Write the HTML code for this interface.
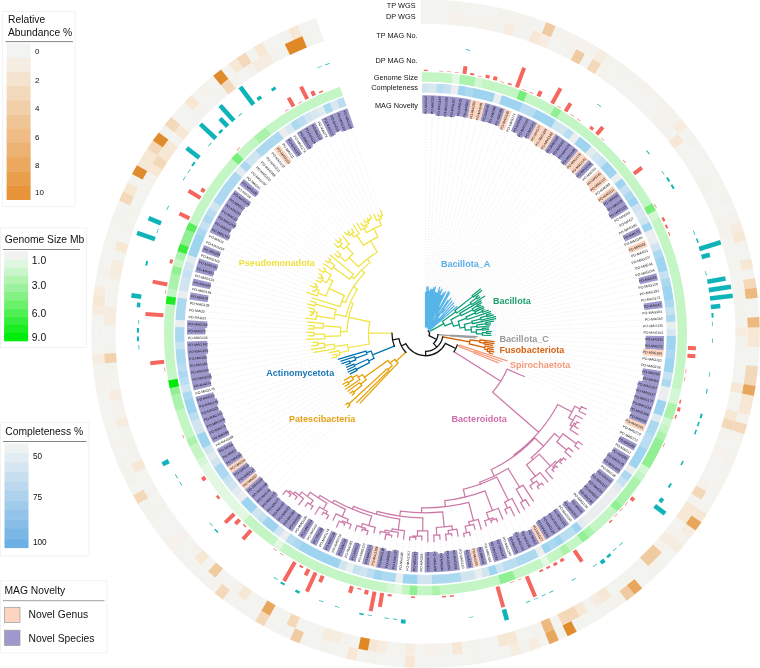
<!DOCTYPE html>
<html lang="en"><head><meta charset="utf-8"><title>Phylogenetic tree of MAGs</title>
<style>html,body{margin:0;padding:0;background:#fff}body{width:760px;height:668px;overflow:hidden}svg{display:block}</style></head>
<body>
<svg width="760" height="668" viewBox="0 0 760 668" font-family="'Liberation Sans', sans-serif">
<rect width="760" height="668" fill="#fff"/>
<g id="heat">
<path fill="#f3f3ef" d="M420.89 11.83L420.72 -0.37A334.2 334.2 0 0 1 450.52 0.54L449.61 12.7A322 322 0 0 0 420.89 11.83ZM458.85 13.53L460.12 1.4A334.2 334.2 0 0 1 499.27 7.84L496.57 19.74A322 322 0 0 0 458.85 13.53ZM505.59 21.92L508.63 10.1A334.2 334.2 0 0 1 518.37 12.76L514.98 24.48A322 322 0 0 0 505.59 21.92ZM532.87 30.23L536.93 18.72A334.2 334.2 0 0 1 546.4 22.24L541.99 33.61A322 322 0 0 0 532.87 30.23ZM608.81 69.07L615.75 59.04A334.2 334.2 0 0 1 623.97 64.91L616.72 74.73A322 322 0 0 0 608.81 69.07ZM624.11 80.35L631.64 70.75A334.2 334.2 0 0 1 639.49 77.09L631.68 86.46A322 322 0 0 0 624.11 80.35ZM645.75 98.91L654.09 90.01A334.2 334.2 0 0 1 661.36 97.03L652.75 105.67A322 322 0 0 0 645.75 98.91ZM677.9 133.85L687.46 126.28A334.2 334.2 0 0 1 693.61 134.29L683.83 141.57A322 322 0 0 0 677.9 133.85ZM689.26 149.1L699.25 142.1A334.2 334.2 0 0 1 728.84 193.54L717.77 198.66A322 322 0 0 0 689.26 149.1ZM721.54 207.14L732.76 202.35A334.2 334.2 0 0 1 736.59 211.69L725.24 216.15A322 322 0 0 0 721.54 207.14ZM736.95 252.06L748.75 248.96A334.2 334.2 0 0 1 751.17 258.77L739.28 261.51A322 322 0 0 0 736.95 252.06ZM741.23 270.58L753.2 268.19A334.2 334.2 0 0 1 755.03 278.12L743 280.15A322 322 0 0 0 741.23 270.58ZM745.59 298.75L757.71 297.43A334.2 334.2 0 0 1 759.29 317.33L747.11 317.93A322 322 0 0 0 745.59 298.75ZM747.26 346.21L759.45 346.68A334.2 334.2 0 0 1 758.09 366.6L745.95 365.4A322 322 0 0 0 747.26 346.21ZM729.73 439.29L741.26 443.28A334.2 334.2 0 0 1 737.81 452.78L726.4 448.43A322 322 0 0 0 729.73 439.29ZM719.21 465.78L730.34 470.78A334.2 334.2 0 0 1 726.06 479.93L715.09 474.6A322 322 0 0 0 719.21 465.78ZM710.91 482.88L721.72 488.53A334.2 334.2 0 0 1 706.75 514.32L696.48 507.73A322 322 0 0 0 710.91 482.88ZM668.1 545.53L677.29 553.55A334.2 334.2 0 0 1 663.73 568.19L655.03 559.63A322 322 0 0 0 668.1 545.53ZM648.43 566.15L656.87 574.96A334.2 334.2 0 0 1 642.06 588.34L634.16 579.05A322 322 0 0 0 648.43 566.15ZM604 601.8L610.76 611.95A334.2 334.2 0 0 1 576.49 631.95L570.98 621.06A322 322 0 0 0 604 601.8ZM562.64 625.14L567.84 636.17A334.2 334.2 0 0 1 558.64 640.34L553.78 629.15A322 322 0 0 0 562.64 625.14ZM545.21 632.72L549.75 644.05A334.2 334.2 0 0 1 540.32 647.66L536.12 636.2A322 322 0 0 0 545.21 632.72ZM509.16 644.74L512.33 656.52A334.2 334.2 0 0 1 483.22 662.98L481.11 650.96A322 322 0 0 0 509.16 644.74ZM471.95 652.43L473.71 664.5A334.2 334.2 0 0 1 414.45 667.82L414.85 655.62A322 322 0 0 0 471.95 652.43ZM405.58 655.18L404.83 667.36A334.2 334.2 0 0 1 375.17 664.19L377.01 652.13A322 322 0 0 0 405.58 655.18ZM367.86 650.6L365.67 662.6A334.2 334.2 0 0 1 355.77 660.64L358.31 648.71A322 322 0 0 0 367.86 650.6ZM349.26 646.65L346.38 658.5A334.2 334.2 0 0 1 327.13 653.2L330.72 641.54A322 322 0 0 0 349.26 646.65ZM321.89 638.68L317.97 650.23A334.2 334.2 0 0 1 299.27 643.24L303.88 631.95A322 322 0 0 0 321.89 638.68ZM295.33 628.32L290.4 639.48A334.2 334.2 0 0 1 263.69 626.22L269.6 615.54A322 322 0 0 0 295.33 628.32ZM261.54 610.93L255.33 621.43A334.2 334.2 0 0 1 222.44 599.24L229.86 589.55A322 322 0 0 0 261.54 610.93ZM215.28 577.71L207.31 586.95A334.2 334.2 0 0 1 172.3 551.93L181.54 543.97A322 322 0 0 0 215.28 577.71ZM175.59 536.85L166.12 544.54A334.2 334.2 0 0 1 148.37 520.58L158.48 513.76A322 322 0 0 0 175.59 536.85ZM153.41 505.99L143.1 512.52A334.2 334.2 0 0 1 137.83 503.9L148.33 497.69A322 322 0 0 0 153.41 505.99ZM143.72 489.64L133.05 495.54A334.2 334.2 0 0 1 128.29 486.63L139.14 481.05A322 322 0 0 0 143.72 489.64ZM127.33 455.36L116.03 459.96A334.2 334.2 0 0 1 112.36 450.55L123.79 446.29A322 322 0 0 0 127.33 455.36ZM120.67 437.55L109.12 441.48A334.2 334.2 0 0 1 96.68 393.55L108.69 391.37A322 322 0 0 0 120.67 437.55ZM105.87 372.8L93.76 374.27A334.2 334.2 0 0 1 92.69 364.23L104.84 363.12A322 322 0 0 0 105.87 372.8ZM104.13 353.87L91.95 354.63A334.2 334.2 0 0 1 91.83 314.95L104.01 315.64A322 322 0 0 0 104.13 353.87ZM106.85 287.5L94.77 285.75A334.2 334.2 0 0 1 96.38 275.78L108.39 277.89A322 322 0 0 0 106.85 287.5ZM110.13 268.78L98.18 266.32A334.2 334.2 0 0 1 111.75 218.69L123.2 222.89A322 322 0 0 0 110.13 268.78ZM126.52 214.23L115.2 209.7A334.2 334.2 0 0 1 119.09 200.38L130.27 205.25A322 322 0 0 0 126.52 214.23ZM138.27 188.25L127.39 182.74A334.2 334.2 0 0 1 132.09 173.8L142.8 179.64A322 322 0 0 0 138.27 188.25ZM180.3 125.09L171.01 117.18A334.2 334.2 0 0 1 184.4 102.37L193.2 110.82A322 322 0 0 0 180.3 125.09ZM199.72 104.22L191.17 95.52A334.2 334.2 0 0 1 198.47 88.55L206.76 97.5A322 322 0 0 0 199.72 104.22ZM213.66 91.3L205.64 82.11A334.2 334.2 0 0 1 213.34 75.58L221.09 85.01A322 322 0 0 0 213.66 91.3ZM228.34 79.22L220.87 69.57A334.2 334.2 0 0 1 228.95 63.51L236.12 73.38A322 322 0 0 0 228.34 79.22ZM251.63 62.78L245.04 52.51A334.2 334.2 0 0 1 253.62 47.18L259.9 57.65A322 322 0 0 0 251.63 62.78ZM267.93 52.99L261.96 42.35A334.2 334.2 0 0 1 279.65 33.11L284.97 44.08A322 322 0 0 0 267.93 52.99ZM302.11 36.38L297.43 25.11A334.2 334.2 0 0 1 316.09 18.02L320.08 29.54A322 322 0 0 0 302.11 36.38Z"/>
<path fill="#f4f2ec" d="M449.39 12.69L450.29 0.52A334.2 334.2 0 0 1 460.35 1.42L459.08 13.56A322 322 0 0 0 449.39 12.69ZM496.35 19.69L499.04 7.79A334.2 334.2 0 0 1 508.85 10.16L505.81 21.98A322 322 0 0 0 496.35 19.69ZM514.76 24.42L518.15 12.7A334.2 334.2 0 0 1 537.15 18.8L533.08 30.3A322 322 0 0 0 514.76 24.42ZM550.59 37.09L555.33 25.85A334.2 334.2 0 0 1 573.49 34.15L568.08 45.09A322 322 0 0 0 550.59 37.09ZM584.68 53.89L590.71 43.29A334.2 334.2 0 0 1 599.41 48.41L593.06 58.83A322 322 0 0 0 584.68 53.89ZM600.91 63.77L607.56 53.54A334.2 334.2 0 0 1 615.95 59.17L608.99 69.2A322 322 0 0 0 600.91 63.77ZM616.54 74.6L623.78 64.78A334.2 334.2 0 0 1 631.82 70.89L624.29 80.49A322 322 0 0 0 616.54 74.6ZM631.51 86.32L639.31 76.94A334.2 334.2 0 0 1 646.97 83.52L638.89 92.66A322 322 0 0 0 631.51 86.32ZM652.59 105.51L661.19 96.86A334.2 334.2 0 0 1 681.37 118.82L672.03 126.66A322 322 0 0 0 652.59 105.51ZM683.69 141.39L693.47 134.1A334.2 334.2 0 0 1 699.39 142.29L689.39 149.28A322 322 0 0 0 683.69 141.39ZM717.68 198.46L728.75 193.33A334.2 334.2 0 0 1 732.85 202.56L721.63 207.35A322 322 0 0 0 717.68 198.46ZM725.15 215.94L736.51 211.47A334.2 334.2 0 0 1 740.06 220.92L728.58 225.05A322 322 0 0 0 725.15 215.94ZM734.4 242.9L746.11 239.46A334.2 334.2 0 0 1 748.81 249.19L737.01 252.28A322 322 0 0 0 734.4 242.9ZM737.87 411.97L749.7 414.93A334.2 334.2 0 0 1 747.1 424.69L735.36 421.37A322 322 0 0 0 737.87 411.97ZM732.71 430.26L744.35 433.92A334.2 334.2 0 0 1 741.18 443.51L729.66 439.5A322 322 0 0 0 732.71 430.26ZM726.48 448.22L737.89 452.56A334.2 334.2 0 0 1 730.24 471L719.12 465.99A322 322 0 0 0 726.48 448.22ZM715.18 474.39L726.16 479.72A334.2 334.2 0 0 1 721.61 488.74L710.8 483.08A322 322 0 0 0 715.18 474.39ZM680.17 530.84L689.82 538.31A334.2 334.2 0 0 1 683.52 546.2L674.1 538.45A322 322 0 0 0 680.17 530.84ZM655.19 559.47L663.89 568.02A334.2 334.2 0 0 1 656.7 575.12L648.26 566.31A322 322 0 0 0 655.19 559.47ZM619.5 590.8L626.85 600.54A334.2 334.2 0 0 1 610.57 612.08L603.81 601.92A322 322 0 0 0 619.5 590.8ZM527.36 639.26L531.22 650.84A334.2 334.2 0 0 1 521.6 653.89L518.09 642.2A322 322 0 0 0 527.36 639.26ZM481.33 650.92L483.45 662.94A334.2 334.2 0 0 1 473.48 664.54L471.72 652.46A322 322 0 0 0 481.33 650.92ZM377.23 652.16L375.41 664.22A334.2 334.2 0 0 1 365.44 662.56L367.64 650.56A322 322 0 0 0 377.23 652.16ZM330.94 641.6L327.35 653.26A334.2 334.2 0 0 1 317.75 650.15L321.68 638.6A322 322 0 0 0 330.94 641.6ZM222.57 583.81L214.88 593.28A334.2 334.2 0 0 1 207.14 586.8L215.11 577.56A322 322 0 0 0 222.57 583.81ZM158.61 513.95L148.5 520.77A334.2 334.2 0 0 1 142.97 512.32L153.29 505.8A322 322 0 0 0 158.61 513.95ZM139.24 481.25L128.4 486.84A334.2 334.2 0 0 1 115.94 459.74L127.24 455.15A322 322 0 0 0 139.24 481.25ZM123.87 446.5L112.44 450.77A334.2 334.2 0 0 1 109.05 441.26L120.6 437.34A322 322 0 0 0 123.87 446.5ZM108.73 391.59L96.73 393.78A334.2 334.2 0 0 1 93.73 374.04L105.84 372.57A322 322 0 0 0 108.73 391.59ZM108.35 278.12L96.34 276.01A334.2 334.2 0 0 1 98.23 266.09L110.18 268.56A322 322 0 0 0 108.35 278.12ZM123.13 223.11L111.67 218.91A334.2 334.2 0 0 1 115.28 209.48L126.61 214.02A322 322 0 0 0 123.13 223.11ZM168.41 139.92L158.67 132.57A334.2 334.2 0 0 1 164.87 124.6L174.39 132.24A322 322 0 0 0 168.41 139.92ZM284.77 44.18L279.44 33.21A334.2 334.2 0 0 1 288.59 28.93L293.59 40.06A322 322 0 0 0 284.77 44.18Z"/>
<path fill="#f6f1ea" d="M567.88 44.99L573.28 34.05A334.2 334.2 0 0 1 590.91 43.4L584.87 54.01A322 322 0 0 0 567.88 44.99ZM638.72 92.51L646.8 83.37A334.2 334.2 0 0 1 654.26 90.17L645.91 99.06A322 322 0 0 0 638.72 92.51ZM181.69 544.14L172.45 552.11A334.2 334.2 0 0 1 165.97 544.36L175.45 536.67A322 322 0 0 0 181.69 544.14ZM206.6 97.65L198.3 88.71A334.2 334.2 0 0 1 205.81 81.95L213.83 91.15A322 322 0 0 0 206.6 97.65Z"/>
<path fill="#f6ece0" d="M592.87 58.71L599.21 48.29A334.2 334.2 0 0 1 607.76 53.67L601.1 63.9A322 322 0 0 0 592.87 58.71ZM671.89 126.49L681.22 118.64A334.2 334.2 0 0 1 687.61 126.46L678.04 134.03A322 322 0 0 0 671.89 126.49ZM728.5 224.83L739.98 220.71A334.2 334.2 0 0 1 743.26 230.26L731.66 234.04A322 322 0 0 0 728.5 224.83ZM685.88 523.24L695.74 530.42A334.2 334.2 0 0 1 689.68 538.49L680.04 531.02A322 322 0 0 0 685.88 523.24ZM674.25 538.27L683.67 546.02A334.2 334.2 0 0 1 677.14 553.72L667.96 545.69A322 322 0 0 0 674.25 538.27ZM536.34 636.12L540.54 647.58A334.2 334.2 0 0 1 531 650.91L527.15 639.33A322 322 0 0 0 536.34 636.12ZM518.3 642.14L521.82 653.82A334.2 334.2 0 0 1 512.11 656.58L508.94 644.8A322 322 0 0 0 518.3 642.14ZM104.86 363.35L92.71 364.46A334.2 334.2 0 0 1 91.94 354.4L104.11 353.64A322 322 0 0 0 104.86 363.35ZM104 315.87L91.82 315.19A334.2 334.2 0 0 1 92.53 305.11L104.69 306.16A322 322 0 0 0 104 315.87ZM105.62 296.93L93.5 295.53A334.2 334.2 0 0 1 94.81 285.52L106.88 287.28A322 322 0 0 0 105.62 296.93Z"/>
<path fill="#f7e7d5" d="M731.59 233.82L743.18 230.04A334.2 334.2 0 0 1 746.17 239.68L734.47 243.12A322 322 0 0 0 731.59 233.82ZM739.23 261.29L751.12 258.54A334.2 334.2 0 0 1 753.24 268.41L741.28 270.8A322 322 0 0 0 739.23 261.29ZM747.43 327.2L759.63 326.95A334.2 334.2 0 0 1 759.44 346.91L747.25 346.44A322 322 0 0 0 747.43 327.2ZM741.94 393.4L753.93 395.66A334.2 334.2 0 0 1 749.65 415.15L737.81 412.18A322 322 0 0 0 741.94 393.4ZM696.6 507.54L706.88 514.13A334.2 334.2 0 0 1 701.3 522.55L691.23 515.66A322 322 0 0 0 696.6 507.54ZM415.08 655.63L414.68 667.82A334.2 334.2 0 0 1 404.59 667.35L405.36 655.17A322 322 0 0 0 415.08 655.63ZM358.53 648.76L356 660.69A334.2 334.2 0 0 1 346.15 658.44L349.05 646.59A322 322 0 0 0 358.53 648.76ZM104.67 306.39L92.51 305.35A334.2 334.2 0 0 1 93.53 295.3L105.64 296.7A322 322 0 0 0 104.67 306.39ZM134.1 196.79L123.06 191.6A334.2 334.2 0 0 1 127.49 182.53L138.37 188.05A322 322 0 0 0 134.1 196.79ZM147.36 171.56L136.82 165.41A334.2 334.2 0 0 1 147.39 148.48L157.54 155.24A322 322 0 0 0 147.36 171.56ZM193.04 110.98L184.24 102.54A334.2 334.2 0 0 1 191.33 95.36L199.88 104.06A322 322 0 0 0 193.04 110.98ZM235.94 73.51L228.76 63.65A334.2 334.2 0 0 1 237.01 57.83L243.89 67.9A322 322 0 0 0 235.94 73.51ZM259.71 57.76L253.42 47.3A334.2 334.2 0 0 1 262.16 42.24L268.12 52.88A322 322 0 0 0 259.71 57.76ZM293.38 40.15L288.37 29.03A334.2 334.2 0 0 1 297.65 25.02L302.31 36.3A322 322 0 0 0 293.38 40.15Z"/>
<path fill="#f4d8ba" d="M742.96 279.93L754.99 277.89A334.2 334.2 0 0 1 756.53 287.87L744.44 289.54A322 322 0 0 0 742.96 279.93ZM745.97 365.18L758.11 366.36A334.2 334.2 0 0 1 755.57 386.17L743.52 384.25A322 322 0 0 0 745.97 365.18ZM735.43 421.15L747.17 424.46A334.2 334.2 0 0 1 744.28 434.14L732.64 430.48A322 322 0 0 0 735.43 421.15ZM269.79 615.65L263.9 626.33A334.2 334.2 0 0 1 255.13 621.31L261.35 610.82A322 322 0 0 0 269.79 615.65ZM230.04 589.69L222.63 599.38A334.2 334.2 0 0 1 214.7 593.13L222.39 583.66A322 322 0 0 0 230.04 589.69ZM148.44 497.89L137.95 504.1A334.2 334.2 0 0 1 132.93 495.34L143.61 489.44A322 322 0 0 0 148.44 497.89ZM130.18 205.46L118.99 200.59A334.2 334.2 0 0 1 123.16 191.39L134.2 196.59A322 322 0 0 0 130.18 205.46ZM157.42 155.43L147.26 148.67A334.2 334.2 0 0 1 152.98 140.35L162.93 147.41A322 322 0 0 0 157.42 155.43ZM174.25 132.42L164.73 124.79A334.2 334.2 0 0 1 171.16 117L180.45 124.92A322 322 0 0 0 174.25 132.42ZM243.71 68.03L236.82 57.96A334.2 334.2 0 0 1 245.24 52.38L251.82 62.66A322 322 0 0 0 243.71 68.03Z"/>
<path fill="#f0caa0" d="M541.78 33.53L546.18 22.15A334.2 334.2 0 0 1 555.55 25.94L550.8 37.18A322 322 0 0 0 541.78 33.53ZM627 584.96L634.64 594.48A334.2 334.2 0 0 1 626.66 600.68L619.32 590.93A322 322 0 0 0 627 584.96ZM304.08 632.03L299.48 643.33A334.2 334.2 0 0 1 290.19 639.38L295.13 628.23A322 322 0 0 0 304.08 632.03Z"/>
<path fill="#ecb97f" d="M744.41 289.32L756.5 287.64A334.2 334.2 0 0 1 757.74 297.66L745.61 298.98A322 322 0 0 0 744.41 289.32ZM747.1 317.7L759.28 317.09A334.2 334.2 0 0 1 759.63 327.19L747.44 327.43A322 322 0 0 0 747.1 317.7Z"/>
<path fill="#e9a75d" d="M743.56 384.03L755.61 385.93A334.2 334.2 0 0 1 753.88 395.88L741.89 393.62A322 322 0 0 0 743.56 384.03ZM691.36 515.47L701.43 522.35A334.2 334.2 0 0 1 695.61 530.6L685.75 523.42A322 322 0 0 0 691.36 515.47ZM634.33 578.9L642.24 588.19A334.2 334.2 0 0 1 634.45 594.62L626.83 585.1A322 322 0 0 0 634.33 578.9ZM553.98 629.06L558.85 640.24A334.2 334.2 0 0 1 549.53 644.13L545 632.8A322 322 0 0 0 553.98 629.06Z"/>
<path fill="#e18c2c" d="M571.18 620.96L576.7 631.84A334.2 334.2 0 0 1 567.63 636.27L562.44 625.23A322 322 0 0 0 571.18 620.96ZM142.69 179.84L131.98 174.01A334.2 334.2 0 0 1 136.94 165.21L147.47 171.36A322 322 0 0 0 142.69 179.84ZM162.8 147.59L152.85 140.54A334.2 334.2 0 0 1 158.81 132.39L168.55 139.74A322 322 0 0 0 162.8 147.59ZM220.91 85.15L213.16 75.73A334.2 334.2 0 0 1 221.05 69.43L228.52 79.08A322 322 0 0 0 220.91 85.15Z"/>
<path fill="#f3f3ef" d="M421.06 23.83L420.89 11.83A322 322 0 0 1 449.61 12.7L448.71 24.67A310 310 0 0 0 421.06 23.83ZM466.7 26.55L468.29 14.66A322 322 0 0 1 477.92 16.1L475.96 27.93A310 310 0 0 0 466.7 26.55ZM493.71 31.4L496.35 19.69A322 322 0 0 1 505.81 21.98L502.82 33.6A310 310 0 0 0 493.71 31.4ZM520.19 38.62L523.86 27.19A322 322 0 0 1 533.08 30.3L529.07 41.61A310 310 0 0 0 520.19 38.62ZM545.93 48.15L550.59 37.09A322 322 0 0 1 568.08 45.09L562.77 55.85A310 310 0 0 0 545.93 48.15ZM578.74 64.33L584.68 53.89A322 322 0 0 1 593.06 58.83L586.82 69.08A310 310 0 0 0 578.74 64.33ZM601.98 78.94L608.81 69.07A322 322 0 0 1 659.38 112.48L650.66 120.73A310 310 0 0 0 601.98 78.94ZM662.71 134.22L671.89 126.49A322 322 0 0 1 678.04 134.03L668.63 141.48A310 310 0 0 0 662.71 134.22ZM674.07 148.56L683.69 141.39A322 322 0 0 1 704.67 173.34L694.27 179.32A310 310 0 0 0 674.07 148.56ZM702.82 195.26L713.55 189.9A322 322 0 0 1 725.24 216.15L714.07 220.53A310 310 0 0 0 702.82 195.26ZM720.18 237.55L731.59 233.82A322 322 0 0 1 744.44 289.54L732.56 291.19A310 310 0 0 0 720.18 237.55ZM733.66 300.06L745.59 298.75A322 322 0 0 1 746.5 308.44L734.54 309.39A310 310 0 0 0 733.66 300.06ZM735.11 318.3L747.1 317.7A322 322 0 0 1 747.44 327.43L735.44 327.67A310 310 0 0 0 735.11 318.3ZM735.27 345.75L747.26 346.21A322 322 0 0 1 743.52 384.25L731.67 382.37A310 310 0 0 0 735.27 345.75ZM730.14 391.18L741.94 393.4A322 322 0 0 1 737.81 412.18L726.17 409.26A310 310 0 0 0 730.14 391.18ZM718.39 435.36L729.73 439.29A322 322 0 0 1 726.4 448.43L715.19 444.16A310 310 0 0 0 718.39 435.36ZM711.89 452.46L722.98 457.06A322 322 0 0 1 710.8 483.08L700.17 477.52A310 310 0 0 0 711.89 452.46ZM676.18 516.18L685.88 523.24A322 322 0 0 1 680.04 531.02L670.55 523.67A310 310 0 0 0 676.18 516.18ZM640.12 557.49L648.43 566.15A322 322 0 0 1 634.16 579.05L626.38 569.91A310 310 0 0 0 640.12 557.49ZM619.49 575.6L627 584.96A322 322 0 0 1 611.65 596.54L604.71 586.75A310 310 0 0 0 619.49 575.6ZM589.65 596.77L596.01 606.95A322 322 0 0 1 587.68 611.98L581.63 601.61A310 310 0 0 0 589.65 596.77ZM557.53 614.28L562.64 625.14A322 322 0 0 1 553.78 629.15L549 618.14A310 310 0 0 0 557.53 614.28ZM532.21 624.86L536.34 636.12A322 322 0 0 1 518.09 642.2L514.64 630.71A310 310 0 0 0 532.21 624.86ZM497.17 635.4L499.95 647.08A322 322 0 0 1 481.11 650.96L479.04 639.14A310 310 0 0 0 497.17 635.4ZM470.22 640.56L471.95 652.43A322 322 0 0 1 462.3 653.69L460.93 641.77A310 310 0 0 0 470.22 640.56ZM452.04 642.66L453.06 654.62A322 322 0 0 1 443.36 655.3L442.69 643.32A310 310 0 0 0 452.04 642.66ZM424.61 643.8L424.58 655.8A322 322 0 0 1 414.85 655.62L415.25 643.63A310 310 0 0 0 424.61 643.8ZM397.2 642.51L396.1 654.46A322 322 0 0 1 386.43 653.42L387.89 641.51A310 310 0 0 0 397.2 642.51ZM361.03 637.02L358.53 648.76A322 322 0 0 1 349.05 646.59L351.9 634.94A310 310 0 0 0 361.03 637.02ZM325.75 627.31L321.89 638.68A322 322 0 0 1 295.13 628.23L299.99 617.25A310 310 0 0 0 325.75 627.31ZM291.87 613.52L286.7 624.35A322 322 0 0 1 269.6 615.54L275.41 605.04A310 310 0 0 0 291.87 613.52ZM267.65 600.6L261.54 610.93A322 322 0 0 1 245.29 600.65L252.01 590.7A310 310 0 0 0 267.65 600.6ZM237.32 580.15L230.04 589.69A322 322 0 0 1 215.11 577.56L222.95 568.48A310 310 0 0 0 237.32 580.15ZM216.27 562.54L208.17 571.39A322 322 0 0 1 201.09 564.72L209.45 556.11A310 310 0 0 0 216.27 562.54ZM196.86 543.14L188.01 551.24A322 322 0 0 1 181.54 543.97L190.64 536.13A310 310 0 0 0 196.86 543.14ZM184.9 529.28L175.59 536.85A322 322 0 0 1 158.48 513.76L168.43 507.06A310 310 0 0 0 184.9 529.28ZM163.55 499.58L153.41 505.99A322 322 0 0 1 148.33 497.69L158.66 491.58A310 310 0 0 0 163.55 499.58ZM154.22 483.83L143.72 489.64A322 322 0 0 1 134.92 472.54L145.75 467.37A310 310 0 0 0 154.22 483.83ZM132.03 433.68L120.67 437.55A322 322 0 0 1 117.68 428.29L129.15 424.77A310 310 0 0 0 132.03 433.68ZM120.53 389.44L108.73 391.59A322 322 0 0 1 105.84 372.57L117.76 371.13A310 310 0 0 0 120.53 389.44ZM115.67 343.98L103.67 344.37A322 322 0 0 1 103.62 325.14L115.61 325.46A310 310 0 0 0 115.67 343.98ZM116.63 307.41L104.67 306.39A322 322 0 0 1 108.39 277.89L120.21 279.98A310 310 0 0 0 116.63 307.41ZM123.87 262.27L112.19 259.5A322 322 0 0 1 114.58 250.07L126.16 253.19A310 310 0 0 0 123.87 262.27ZM128.61 244.59L117.12 241.14A322 322 0 0 1 120.06 231.87L131.44 235.66A310 310 0 0 0 128.61 244.59ZM134.39 227.23L123.13 223.11A322 322 0 0 1 126.61 214.02L137.75 218.48A310 310 0 0 0 134.39 227.23ZM141.19 210.24L130.18 205.46A322 322 0 0 1 142.8 179.64L153.34 185.39A310 310 0 0 0 141.19 210.24ZM177.99 147.15L168.41 139.92A322 322 0 0 1 174.39 132.24L183.75 139.75A310 310 0 0 0 177.99 147.15ZM189.44 132.87L180.3 125.09A322 322 0 0 1 193.2 110.82L201.86 119.13A310 310 0 0 0 189.44 132.87ZM208.14 112.77L199.72 104.22A322 322 0 0 1 221.09 85.01L228.7 94.28A310 310 0 0 0 208.14 112.77ZM243 83.21L235.94 73.51A322 322 0 0 1 243.89 67.9L250.66 77.81A310 310 0 0 0 243 83.21ZM281.84 59.09L276.28 48.46A322 322 0 0 1 284.97 44.08L290.21 54.88A310 310 0 0 0 281.84 59.09ZM315.21 44.08L310.94 32.87A322 322 0 0 1 320.08 29.54L324.01 40.88A310 310 0 0 0 315.21 44.08Z"/>
<path fill="#f4f2ec" d="M475.75 27.9L477.7 16.06A322 322 0 0 1 487.27 17.78L484.97 29.56A310 310 0 0 0 475.75 27.9ZM511.44 35.95L514.76 24.42A322 322 0 0 1 524.07 27.26L520.4 38.68A310 310 0 0 0 511.44 35.95ZM562.58 55.75L567.88 44.99A322 322 0 0 1 576.54 49.42L570.91 60.02A310 310 0 0 0 562.58 55.75ZM594.38 73.84L600.91 63.77A322 322 0 0 1 608.99 69.2L602.16 79.06A310 310 0 0 0 594.38 73.84ZM656.71 127.3L665.66 119.31A322 322 0 0 1 672.03 126.66L662.85 134.38A310 310 0 0 0 656.71 127.3ZM694.16 179.14L704.56 173.15A322 322 0 0 1 713.66 190.1L702.92 195.45A310 310 0 0 0 694.16 179.14ZM713.99 220.33L725.15 215.94A322 322 0 0 1 731.66 234.04L720.25 237.76A310 310 0 0 0 713.99 220.33ZM732.53 290.98L744.41 289.32A322 322 0 0 1 745.61 298.98L733.68 300.28A310 310 0 0 0 732.53 290.98ZM734.52 309.17L746.48 308.22A322 322 0 0 1 747.11 317.93L735.12 318.52A310 310 0 0 0 734.52 309.17ZM735.49 336.6L747.49 336.71A322 322 0 0 1 747.25 346.44L735.26 345.96A310 310 0 0 0 735.49 336.6ZM721.26 426.67L732.71 430.26A322 322 0 0 1 729.66 439.5L718.32 435.56A310 310 0 0 0 721.26 426.67ZM691.32 493.29L701.61 499.47A322 322 0 0 1 696.48 507.73L686.38 501.25A310 310 0 0 0 691.32 493.29ZM626.54 569.77L634.33 578.9A322 322 0 0 1 626.83 585.1L619.32 575.74A310 310 0 0 0 626.54 569.77ZM540.75 621.58L545.21 632.72A322 322 0 0 1 536.12 636.2L532 624.93A310 310 0 0 0 540.75 621.58ZM479.25 639.1L481.33 650.92A322 322 0 0 1 471.72 652.46L470 640.59A310 310 0 0 0 479.25 639.1ZM406.32 643.21L405.58 655.18A322 322 0 0 1 395.88 654.43L396.98 642.49A310 310 0 0 0 406.32 643.21ZM352.11 634.99L349.26 646.65A322 322 0 0 1 339.85 644.2L343.04 632.63A310 310 0 0 0 352.11 634.99ZM203.14 549.8L194.53 558.16A322 322 0 0 1 187.85 551.08L196.71 542.98A310 310 0 0 0 203.14 549.8ZM168.56 507.24L158.61 513.95A322 322 0 0 1 153.29 505.8L163.43 499.39A310 310 0 0 0 168.56 507.24ZM158.77 491.77L148.44 497.89A322 322 0 0 1 143.61 489.44L154.12 483.64A310 310 0 0 0 158.77 491.77ZM142.02 459.25L131.04 464.1A322 322 0 0 1 120.6 437.34L131.96 433.48A310 310 0 0 0 142.02 459.25ZM126.65 416.19L115.08 419.38A322 322 0 0 1 110.53 400.69L122.26 398.2A310 310 0 0 0 126.65 416.19ZM117.78 371.34L105.87 372.8A322 322 0 0 1 104.84 363.12L116.79 362.03A310 310 0 0 0 117.78 371.34ZM116.1 353.12L104.13 353.87A322 322 0 0 1 103.67 344.15L115.66 343.76A310 310 0 0 0 116.1 353.12ZM131.37 235.87L119.99 232.08A322 322 0 0 1 123.2 222.89L134.47 227.03A310 310 0 0 0 131.37 235.87ZM137.67 218.68L126.52 214.23A322 322 0 0 1 130.27 205.25L141.28 210.04A310 310 0 0 0 137.67 218.68ZM153.23 185.58L142.69 179.84A322 322 0 0 1 147.47 171.36L157.84 177.42A310 310 0 0 0 153.23 185.58ZM201.71 119.29L193.04 110.98A322 322 0 0 1 199.88 104.06L208.29 112.62A310 310 0 0 0 201.71 119.29ZM235.69 88.71L228.34 79.22A322 322 0 0 1 236.12 73.38L243.18 83.08A310 310 0 0 0 235.69 88.71ZM250.48 77.93L243.71 68.03A322 322 0 0 1 251.82 62.66L258.29 72.76A310 310 0 0 0 250.48 77.93ZM273.8 63.45L267.93 52.99A322 322 0 0 1 276.48 48.36L282.04 58.99A310 310 0 0 0 273.8 63.45ZM306.7 47.47L302.11 36.38A322 322 0 0 1 311.15 32.79L315.41 44.01A310 310 0 0 0 306.7 47.47Z"/>
<path fill="#f6f1ea" d="M448.5 24.65L449.39 12.69A322 322 0 0 1 468.52 14.69L466.91 26.58A310 310 0 0 0 448.5 24.65ZM484.76 29.52L487.05 17.74A322 322 0 0 1 496.57 19.74L493.92 31.45A310 310 0 0 0 484.76 29.52ZM650.52 120.57L659.23 112.31A322 322 0 0 1 665.81 119.48L656.86 127.46A310 310 0 0 0 650.52 120.57ZM715.27 443.96L726.48 448.22A322 322 0 0 1 722.89 457.26L711.81 452.66A310 310 0 0 0 715.27 443.96ZM700.27 477.33L710.91 482.88A322 322 0 0 1 706.27 491.44L695.81 485.56A310 310 0 0 0 700.27 477.33ZM670.68 523.5L680.17 530.84A322 322 0 0 1 674.1 538.45L664.84 530.82A310 310 0 0 0 670.68 523.5ZM659.06 537.64L668.1 545.53A322 322 0 0 1 661.6 552.76L652.8 544.6A310 310 0 0 0 659.06 537.64ZM442.91 643.31L443.58 655.29A322 322 0 0 1 424.36 655.8L424.4 643.8A310 310 0 0 0 442.91 643.31ZM244.67 585.6L237.67 595.34A322 322 0 0 1 229.86 589.55L237.15 580.02A310 310 0 0 0 244.67 585.6ZM190.78 536.3L181.69 544.14A322 322 0 0 1 175.45 536.67L184.77 529.11A310 310 0 0 0 190.78 536.3Z"/>
<path fill="#f6ece0" d="M502.61 33.54L505.59 21.92A322 322 0 0 1 514.98 24.48L511.65 36.01A310 310 0 0 0 502.61 33.54ZM537.45 44.72L541.78 33.53A322 322 0 0 1 550.8 37.18L546.13 48.23A310 310 0 0 0 537.45 44.72ZM735.43 327.45L747.43 327.2A322 322 0 0 1 747.48 336.93L735.49 336.82A310 310 0 0 0 735.43 327.45ZM664.98 530.65L674.25 538.27A322 322 0 0 1 667.96 545.69L658.92 537.8A310 310 0 0 0 664.98 530.65ZM597.34 591.81L604 601.8A322 322 0 0 1 595.82 607.07L589.47 596.88A310 310 0 0 0 597.34 591.81ZM415.46 643.64L415.08 655.63A322 322 0 0 1 405.36 655.17L406.11 643.19A310 310 0 0 0 415.46 643.64ZM388.1 641.54L386.65 653.45A322 322 0 0 1 377.01 652.13L378.82 640.27A310 310 0 0 0 388.1 641.54ZM343.25 632.69L340.06 644.26A322 322 0 0 1 321.68 638.6L325.55 627.24A310 310 0 0 0 343.25 632.69ZM129.21 424.98L117.74 428.51A322 322 0 0 1 115.02 419.16L126.59 415.98A310 310 0 0 0 129.21 424.98ZM122.31 398.41L110.57 400.91A322 322 0 0 1 108.69 391.37L120.49 389.22A310 310 0 0 0 122.31 398.41ZM115.61 325.68L103.61 325.36A322 322 0 0 1 104.69 306.16L116.64 307.19A310 310 0 0 0 115.61 325.68ZM120.17 280.19L108.35 278.12A322 322 0 0 1 112.24 259.28L123.92 262.06A310 310 0 0 0 120.17 280.19ZM258.11 72.88L251.63 62.78A322 322 0 0 1 268.12 52.88L273.99 63.35A310 310 0 0 0 258.11 72.88Z"/>
<path fill="#f7e7d5" d="M528.86 41.54L532.87 30.23A322 322 0 0 1 541.99 33.61L537.65 44.8A310 310 0 0 0 528.86 41.54ZM668.49 141.31L677.9 133.85A322 322 0 0 1 683.83 141.57L674.2 148.74A310 310 0 0 0 668.49 141.31ZM731.7 382.16L743.56 384.03A322 322 0 0 1 741.89 393.62L730.1 391.39A310 310 0 0 0 731.7 382.16ZM726.23 409.05L737.87 411.97A322 322 0 0 1 735.36 421.37L723.82 418.11A310 310 0 0 0 726.23 409.05ZM686.5 501.07L696.6 507.54A322 322 0 0 1 685.75 523.42L676.05 516.35A310 310 0 0 0 686.5 501.07ZM604.89 586.63L611.83 596.41A322 322 0 0 1 603.81 601.92L597.16 591.93A310 310 0 0 0 604.89 586.63ZM581.82 601.5L587.87 611.86A322 322 0 0 1 579.4 616.64L573.66 606.1A310 310 0 0 0 581.82 601.5ZM514.84 630.65L518.3 642.14A322 322 0 0 1 499.73 647.13L496.96 635.45A310 310 0 0 0 514.84 630.65ZM461.14 641.74L462.52 653.66A322 322 0 0 1 452.84 654.64L451.82 642.68A310 310 0 0 0 461.14 641.74ZM379.03 640.3L377.23 652.16A322 322 0 0 1 367.64 650.56L369.79 638.75A310 310 0 0 0 379.03 640.3ZM252.18 590.82L245.48 600.77A322 322 0 0 1 237.49 595.21L244.5 585.47A310 310 0 0 0 252.18 590.82ZM209.61 556.26L201.25 564.88A322 322 0 0 1 194.37 558L202.98 549.64A310 310 0 0 0 209.61 556.26ZM145.84 467.56L135.02 472.74A322 322 0 0 1 130.95 463.9L141.93 459.05A310 310 0 0 0 145.84 467.56ZM126.11 253.4L114.52 250.28A322 322 0 0 1 117.18 240.93L128.67 244.39A310 310 0 0 0 126.11 253.4ZM157.73 177.6L147.36 171.56A322 322 0 0 1 152.39 163.23L162.57 169.58A310 310 0 0 0 157.73 177.6ZM167.41 162.08L157.42 155.43A322 322 0 0 1 168.55 139.74L178.12 146.97A310 310 0 0 0 167.41 162.08ZM183.61 139.92L174.25 132.42A322 322 0 0 1 180.45 124.92L189.58 132.7A310 310 0 0 0 183.61 139.92Z"/>
<path fill="#f4d8ba" d="M586.63 68.97L592.87 58.71A322 322 0 0 1 601.1 63.9L594.56 73.96A310 310 0 0 0 586.63 68.97ZM723.88 417.9L735.43 421.15A322 322 0 0 1 732.64 430.48L721.2 426.87A310 310 0 0 0 723.88 417.9ZM695.92 485.38L706.38 491.24A322 322 0 0 1 701.5 499.66L691.21 493.48A310 310 0 0 0 695.92 485.38ZM573.85 606L579.59 616.54A322 322 0 0 1 562.44 625.23L557.33 614.37A310 310 0 0 0 573.85 606ZM300.18 617.34L295.33 628.32A322 322 0 0 1 286.49 624.25L291.67 613.43A310 310 0 0 0 300.18 617.34ZM162.45 169.77L152.27 163.42A322 322 0 0 1 157.54 155.24L167.53 161.9A310 310 0 0 0 162.45 169.77ZM228.54 94.41L220.91 85.15A322 322 0 0 1 228.52 79.08L235.86 88.57A310 310 0 0 0 228.54 94.41Z"/>
<path fill="#f2d1ad" d="M116.81 362.24L104.86 363.35A322 322 0 0 1 104.11 353.64L116.09 352.9A310 310 0 0 0 116.81 362.24Z"/>
<path fill="#f0caa0" d="M570.72 59.92L576.34 49.32A322 322 0 0 1 584.87 54.01L578.93 64.43A310 310 0 0 0 570.72 59.92ZM652.94 544.44L661.75 552.59A322 322 0 0 1 648.26 566.31L639.96 557.64A310 310 0 0 0 652.94 544.44ZM223.11 568.62L215.28 577.71A322 322 0 0 1 208 571.24L216.11 562.39A310 310 0 0 0 223.11 568.62Z"/>
<path fill="#ecb97f" d="M549.19 618.05L553.98 629.06A322 322 0 0 1 545 632.8L540.55 621.66A310 310 0 0 0 549.19 618.05Z"/>
<path fill="#e9a75d" d="M275.6 605.15L269.79 615.65A322 322 0 0 1 261.35 610.82L267.47 600.49A310 310 0 0 0 275.6 605.15Z"/>
<path fill="#e08826" d="M370.01 638.79L367.86 650.6A322 322 0 0 1 358.31 648.71L360.82 636.98A310 310 0 0 0 370.01 638.79ZM290.01 54.97L284.77 44.18A322 322 0 0 1 302.31 36.3L306.9 47.38A310 310 0 0 0 290.01 54.97Z"/>
</g>
<g id="gs">
<path fill="#e2f8e3" d="M451.6 83.16L452.59 73.71A261.5 261.5 0 0 1 460.43 74.64L459.17 84.06A252 252 0 0 0 451.6 83.16ZM546.09 555.07L550.64 563.41A261.5 261.5 0 0 1 543.65 567.09L539.35 558.61A252 252 0 0 0 546.09 555.07ZM402.49 584.75L401.63 594.21A261.5 261.5 0 0 1 393.77 593.37L394.92 583.94A252 252 0 0 0 402.49 584.75ZM284.61 542.74L279.3 550.61A261.5 261.5 0 0 1 272.82 546.1L278.36 538.38A252 252 0 0 0 284.61 542.74ZM250 514.64L243.38 521.46A261.5 261.5 0 0 1 200.41 466.9L208.58 462.06A252 252 0 0 0 250 514.64Z"/>
<path fill="#d3f6d4" d="M473.67 86.45L475.49 77.12A261.5 261.5 0 0 1 483.22 78.75L481.12 88.02A252 252 0 0 0 473.67 86.45ZM647.51 214.57L655.88 210.08A261.5 261.5 0 0 1 659.51 217.1L651.01 221.34A252 252 0 0 0 647.51 214.57ZM671.66 387.73L680.94 389.76A261.5 261.5 0 0 1 677.14 404.92L668 402.33A252 252 0 0 0 671.66 387.73ZM663.59 416.36L672.57 419.47A261.5 261.5 0 0 1 669.87 426.89L660.99 423.51A252 252 0 0 0 663.59 416.36ZM641.59 463.45L649.74 468.34A261.5 261.5 0 0 1 645.57 475.05L637.57 469.92A252 252 0 0 0 641.59 463.45ZM395.1 583.96L393.95 593.39A261.5 261.5 0 0 1 386.12 592.32L387.55 582.93A252 252 0 0 0 395.1 583.96ZM208.67 462.22L200.5 467.06A261.5 261.5 0 0 1 196.58 460.2L204.89 455.61A252 252 0 0 0 208.67 462.22Z"/>
<path fill="#c4f5c5" d="M421.89 81.83L421.76 72.33A261.5 261.5 0 0 1 452.77 73.73L451.78 83.17A252 252 0 0 0 421.89 81.83ZM480.95 87.98L483.04 78.71A261.5 261.5 0 0 1 520.1 90.01L516.66 98.87A252 252 0 0 0 480.95 87.98ZM523.4 101.59L527.09 92.84A261.5 261.5 0 0 1 554.93 106.58L550.23 114.83A252 252 0 0 0 523.4 101.59ZM556.48 118.52L561.42 110.4A261.5 261.5 0 0 1 652.22 203.49L643.98 208.23A252 252 0 0 0 556.48 118.52ZM650.93 221.18L659.43 216.93A261.5 261.5 0 0 1 680.9 389.94L671.62 387.9A252 252 0 0 0 650.93 221.18ZM661.05 423.35L669.93 426.72A261.5 261.5 0 0 1 667.01 434.07L658.24 430.42A252 252 0 0 0 661.05 423.35ZM637.67 469.77L645.67 474.9A261.5 261.5 0 0 1 641.3 481.49L633.46 476.12A252 252 0 0 0 637.67 469.77ZM610.39 505.03L617.36 511.49A261.5 261.5 0 0 1 594.95 532.97L588.8 525.73A252 252 0 0 0 610.39 505.03ZM577.33 534.93L583.05 542.51A261.5 261.5 0 0 1 570.31 551.55L565.05 543.64A252 252 0 0 0 577.33 534.93ZM558.94 547.57L563.97 555.63A261.5 261.5 0 0 1 550.48 563.5L545.94 555.16A252 252 0 0 0 558.94 547.57ZM539.51 558.53L543.81 567.01A261.5 261.5 0 0 1 515.34 579.38L512.08 570.46A252 252 0 0 0 539.51 558.53ZM498.13 575.11L500.87 584.2A261.5 261.5 0 0 1 440 594.9L439.48 585.41A252 252 0 0 0 498.13 575.11ZM432.22 585.71L432.47 595.21A261.5 261.5 0 0 1 416.85 595.16L417.17 585.66A252 252 0 0 0 432.22 585.71ZM409.91 585.32L409.32 594.8A261.5 261.5 0 0 1 401.45 594.19L402.32 584.73A252 252 0 0 0 409.91 585.32ZM387.73 582.95L386.3 592.35A261.5 261.5 0 0 1 279.15 550.51L284.47 542.64A252 252 0 0 0 387.73 582.95ZM278.51 538.49L272.96 546.2A261.5 261.5 0 0 1 243.25 521.33L249.87 514.52A252 252 0 0 0 278.51 538.49ZM204.98 455.76L196.66 460.36A261.5 261.5 0 0 1 189.52 446.47L198.09 442.38A252 252 0 0 0 204.98 455.76ZM195.06 435.78L186.37 439.62A261.5 261.5 0 0 1 175.51 410.54L184.59 407.75A252 252 0 0 0 195.06 435.78ZM177.59 379.03L168.25 380.73A261.5 261.5 0 0 1 165.74 303.67L175.18 304.77A252 252 0 0 0 177.59 379.03ZM176.12 297.57L166.72 296.2A261.5 261.5 0 0 1 167.97 288.4L177.33 290.05A252 252 0 0 0 176.12 297.57ZM182.12 268.44L172.95 265.98A261.5 261.5 0 0 1 175.11 258.38L184.21 261.12A252 252 0 0 0 182.12 268.44ZM197.45 226.58L188.85 222.54A261.5 261.5 0 0 1 231.58 158.36L238.63 164.74A252 252 0 0 0 197.45 226.58ZM243.58 159.42L236.72 152.85A261.5 261.5 0 0 1 253.6 136.74L259.85 143.9A252 252 0 0 0 243.58 159.42ZM271.2 134.56L265.38 127.05A261.5 261.5 0 0 1 339.89 86.71L343 95.69A252 252 0 0 0 271.2 134.56Z"/>
<path fill="#abf3ac" d="M458.99 84.04L460.25 74.62A261.5 261.5 0 0 1 475.67 77.16L473.84 86.48A252 252 0 0 0 458.99 84.04ZM668.05 402.16L677.19 404.74A261.5 261.5 0 0 1 672.51 419.64L663.54 416.52A252 252 0 0 0 668.05 402.16ZM658.31 430.26L667.08 433.9A261.5 261.5 0 0 1 663.95 441.15L655.29 437.25A252 252 0 0 0 658.31 430.26ZM633.56 475.98L641.41 481.34A261.5 261.5 0 0 1 622.4 505.88L615.25 499.63A252 252 0 0 0 633.56 475.98ZM588.93 525.62L595.09 532.85A261.5 261.5 0 0 1 589 537.88L583.06 530.47A252 252 0 0 0 588.93 525.62ZM565.19 543.54L570.46 551.44A261.5 261.5 0 0 1 563.82 555.72L558.79 547.66A252 252 0 0 0 565.19 543.54ZM439.65 585.4L440.19 594.89A261.5 261.5 0 0 1 432.29 595.21L432.04 585.72A252 252 0 0 0 439.65 585.4ZM198.17 442.53L189.6 446.63A261.5 261.5 0 0 1 186.29 439.45L194.98 435.62A252 252 0 0 0 198.17 442.53ZM184.65 407.92L175.57 410.71A261.5 261.5 0 0 1 171.42 395.65L180.65 393.41A252 252 0 0 0 184.65 407.92ZM177.3 290.22L167.94 288.58A261.5 261.5 0 0 1 171.1 273.28L180.34 275.48A252 252 0 0 0 177.3 290.22ZM184.16 261.28L175.06 258.55A261.5 261.5 0 0 1 177.45 251.02L186.46 254.02A252 252 0 0 0 184.16 261.28ZM259.71 144.01L253.46 136.86A261.5 261.5 0 0 1 265.53 126.94L271.34 134.45A252 252 0 0 0 259.71 144.01Z"/>
<path fill="#91f093" d="M550.07 114.74L554.77 106.49A261.5 261.5 0 0 1 561.58 110.49L556.63 118.61A252 252 0 0 0 550.07 114.74ZM655.36 437.09L664.02 440.98A261.5 261.5 0 0 1 649.64 468.5L641.5 463.6A252 252 0 0 0 655.36 437.09ZM615.36 499.5L622.52 505.74A261.5 261.5 0 0 1 617.24 511.62L610.27 505.16A252 252 0 0 0 615.36 499.5ZM583.2 530.36L589.14 537.77A261.5 261.5 0 0 1 582.9 542.62L577.19 535.04A252 252 0 0 0 583.2 530.36ZM512.24 570.4L515.51 579.32A261.5 261.5 0 0 1 500.69 584.26L497.96 575.16A252 252 0 0 0 512.24 570.4ZM417.34 585.67L417.03 595.16A261.5 261.5 0 0 1 409.14 594.79L409.74 585.31A252 252 0 0 0 417.34 585.67ZM180.69 393.58L171.46 395.83A261.5 261.5 0 0 1 169.71 388.13L179 386.15A252 252 0 0 0 180.69 393.58ZM180.3 275.65L171.06 273.46A261.5 261.5 0 0 1 173 265.8L182.17 268.27A252 252 0 0 0 180.3 275.65ZM188.86 247.17L179.94 243.9A261.5 261.5 0 0 1 185.74 229.4L194.45 233.2A252 252 0 0 0 188.86 247.17Z"/>
<path fill="#78ee7a" d="M516.5 98.8L519.93 89.95A261.5 261.5 0 0 1 527.26 92.91L523.56 101.66A252 252 0 0 0 516.5 98.8ZM643.9 208.07L652.13 203.33A261.5 261.5 0 0 1 655.97 210.24L647.59 214.73A252 252 0 0 0 643.9 208.07ZM238.51 164.87L231.46 158.5A261.5 261.5 0 0 1 236.85 152.72L243.7 159.29A252 252 0 0 0 238.51 164.87Z"/>
<path fill="#5aec5d" d="M194.38 233.36L185.67 229.57A261.5 261.5 0 0 1 188.93 222.37L197.52 226.42A252 252 0 0 0 194.38 233.36Z"/>
<path fill="#3ceb40" d="M186.4 254.19L177.39 251.19A261.5 261.5 0 0 1 180 243.73L188.92 247A252 252 0 0 0 186.4 254.19Z"/>
<path fill="#1eea23" d="M175.16 304.94L165.72 303.86A261.5 261.5 0 0 1 166.74 296.02L176.14 297.39A252 252 0 0 0 175.16 304.94Z"/>
<path fill="#00e806" d="M179.03 386.32L169.74 388.3A261.5 261.5 0 0 1 168.21 380.55L177.56 378.85A252 252 0 0 0 179.03 386.32Z"/>
</g>
<g id="cp">
<path fill="#eaeeef" d="M450.47 94L451.44 84.75A250.4 250.4 0 0 1 458.95 85.64L457.71 94.86A241.1 241.1 0 0 0 450.47 94ZM492.34 102.15L494.92 93.21A250.4 250.4 0 0 1 502.15 95.42L499.31 104.27A241.1 241.1 0 0 0 492.34 102.15ZM568.54 139.72L574.06 132.23A250.4 250.4 0 0 1 580.08 136.81L574.34 144.13A241.1 241.1 0 0 0 568.54 139.72ZM609.99 178.58L617.1 172.59A250.4 250.4 0 0 1 621.88 178.45L614.59 184.22A241.1 241.1 0 0 0 609.99 178.58ZM644.27 232.46L652.71 228.55A250.4 250.4 0 0 1 658.59 242.31L649.93 245.71A241.1 241.1 0 0 0 644.27 232.46ZM666.3 321.75L675.59 321.28A250.4 250.4 0 0 1 675.85 328.84L666.55 329.03A241.1 241.1 0 0 0 666.3 321.75ZM661.01 385.4L670.1 387.39A250.4 250.4 0 0 1 666.46 401.9L657.51 399.37A241.1 241.1 0 0 0 661.01 385.4ZM628.49 463.89L636.32 468.91A250.4 250.4 0 0 1 632.14 475.22L624.47 469.97A241.1 241.1 0 0 0 628.49 463.89ZM611.75 486.9L618.94 492.81A250.4 250.4 0 0 1 587.76 524.52L581.73 517.43A241.1 241.1 0 0 0 611.75 486.9ZM540.88 545.5L545.33 553.67A250.4 250.4 0 0 1 538.63 557.19L534.43 548.89A241.1 241.1 0 0 0 540.88 545.5ZM481.24 568.37L483.39 577.42A250.4 250.4 0 0 1 476.01 579.05L474.13 569.94A241.1 241.1 0 0 0 481.24 568.37ZM403.49 573.89L402.64 583.15A250.4 250.4 0 0 1 395.12 582.35L396.25 573.12A241.1 241.1 0 0 0 403.49 573.89ZM354.7 564.27L351.96 573.16A250.4 250.4 0 0 1 344.77 570.83L347.76 562.02A241.1 241.1 0 0 0 354.7 564.27ZM290.71 533.7L285.51 541.41A250.4 250.4 0 0 1 279.3 537.09L284.73 529.53A241.1 241.1 0 0 0 290.71 533.7ZM247.67 496.61L240.82 502.89A250.4 250.4 0 0 1 235.79 497.23L242.84 491.16A241.1 241.1 0 0 0 247.67 496.61ZM184.48 327.48L175.19 327.24A250.4 250.4 0 0 1 175.5 319.68L184.78 320.2A241.1 241.1 0 0 0 184.48 327.48ZM186.91 299.13L177.7 297.8A250.4 250.4 0 0 1 178.9 290.33L188.06 291.94A241.1 241.1 0 0 0 186.91 299.13ZM283.57 138.91L278.09 131.39A250.4 250.4 0 0 1 284.27 127.03L289.52 134.71A241.1 241.1 0 0 0 283.57 138.91Z"/>
<path fill="#e2ebf0" d="M585.15 153.13L591.31 146.16A250.4 250.4 0 0 1 596.9 151.26L590.54 158.04A241.1 241.1 0 0 0 585.15 153.13ZM653.3 412.78L662.08 415.83A250.4 250.4 0 0 1 659.5 422.94L650.8 419.63A241.1 241.1 0 0 0 653.3 412.78ZM616.19 481.34L623.54 487.03A250.4 250.4 0 0 1 618.82 492.94L611.64 487.03A241.1 241.1 0 0 0 616.19 481.34ZM581.86 517.32L587.89 524.4A250.4 250.4 0 0 1 582.06 529.22L576.24 521.96A241.1 241.1 0 0 0 581.86 517.32ZM242.95 491.29L235.9 497.37A250.4 250.4 0 0 1 231.05 491.56L238.27 485.7A241.1 241.1 0 0 0 242.95 491.29ZM218.05 456.66L210.05 461.4A250.4 250.4 0 0 1 206.29 454.83L214.44 450.34A241.1 241.1 0 0 0 218.05 456.66ZM194.6 264.42L185.69 261.74A250.4 250.4 0 0 1 187.98 254.53L196.8 257.48A241.1 241.1 0 0 0 194.6 264.42ZM241.9 177.52L234.82 171.5A250.4 250.4 0 0 1 239.81 165.81L246.71 172.05A241.1 241.1 0 0 0 241.9 177.52ZM320.13 116.95L316.06 108.58A250.4 250.4 0 0 1 322.92 105.38L326.73 113.86A241.1 241.1 0 0 0 320.13 116.95Z"/>
<path fill="#d9e8f0" d="M429.17 92.73L429.31 83.43A250.4 250.4 0 0 1 436.87 83.66L436.45 92.95A241.1 241.1 0 0 0 429.17 92.73ZM634.45 213.51L642.51 208.87A250.4 250.4 0 0 1 646.18 215.49L637.99 219.88A241.1 241.1 0 0 0 634.45 213.51ZM666.55 328.86L675.85 328.67A250.4 250.4 0 0 1 675.89 336.24L666.59 336.15A241.1 241.1 0 0 0 666.55 328.86ZM289.38 134.8L284.13 127.12A250.4 250.4 0 0 1 290.44 122.95L295.46 130.78A241.1 241.1 0 0 0 289.38 134.8ZM313.77 120.15L309.46 111.91A250.4 250.4 0 0 1 316.22 108.5L320.28 116.87A241.1 241.1 0 0 0 313.77 120.15ZM333.11 111.11L329.54 102.52A250.4 250.4 0 0 1 336.58 99.72L339.88 108.42A241.1 241.1 0 0 0 333.11 111.11Z"/>
<path fill="#d1e5f1" d="M422.05 92.72L421.92 83.43A250.4 250.4 0 0 1 429.48 83.43L429.34 92.73A241.1 241.1 0 0 0 422.05 92.72ZM550.82 127.83L555.65 119.88A250.4 250.4 0 0 1 568.19 128.04L562.89 135.68A241.1 241.1 0 0 0 550.82 127.83ZM590.41 157.92L596.77 151.14A250.4 250.4 0 0 1 602.22 156.4L595.65 162.99A241.1 241.1 0 0 0 590.41 157.92ZM630.81 207.4L638.73 202.52A250.4 250.4 0 0 1 642.6 209.02L634.53 213.66A241.1 241.1 0 0 0 630.81 207.4ZM637.91 219.73L646.1 215.33A250.4 250.4 0 0 1 649.58 222.05L641.26 226.2A241.1 241.1 0 0 0 637.91 219.73ZM649.87 245.55L658.52 242.15A250.4 250.4 0 0 1 661.19 249.23L652.43 252.37A241.1 241.1 0 0 0 649.87 245.55ZM501.77 562.52L504.71 571.34A250.4 250.4 0 0 1 497.5 573.63L494.83 564.72A241.1 241.1 0 0 0 501.77 562.52ZM488.14 566.62L490.56 575.6A250.4 250.4 0 0 1 483.22 577.46L481.08 568.41A241.1 241.1 0 0 0 488.14 566.62ZM474.29 569.91L476.18 579.02A250.4 250.4 0 0 1 461.45 581.61L460.11 572.4A241.1 241.1 0 0 0 474.29 569.91ZM431.93 574.81L432.18 584.11A250.4 250.4 0 0 1 417.22 584.06L417.53 574.77A241.1 241.1 0 0 0 431.93 574.81ZM368.42 568.05L366.22 577.08A250.4 250.4 0 0 1 358.89 575.18L361.37 566.21A241.1 241.1 0 0 0 368.42 568.05ZM347.92 562.08L344.93 570.88A250.4 250.4 0 0 1 337.8 568.34L341.06 559.63A241.1 241.1 0 0 0 347.92 562.08ZM284.86 529.63L279.44 537.19A250.4 250.4 0 0 1 273.36 532.68L279.01 525.29A241.1 241.1 0 0 0 284.86 529.63ZM262.77 511.7L256.49 518.56A250.4 250.4 0 0 1 250.99 513.37L257.47 506.7A241.1 241.1 0 0 0 262.77 511.7ZM238.38 485.83L231.16 491.7A250.4 250.4 0 0 1 226.48 485.75L233.87 480.11A241.1 241.1 0 0 0 238.38 485.83ZM221.77 462.73L213.91 467.7A250.4 250.4 0 0 1 209.96 461.25L217.97 456.52A241.1 241.1 0 0 0 221.77 462.73ZM214.52 450.48L206.38 454.98A250.4 250.4 0 0 1 202.82 448.31L211.09 444.06A241.1 241.1 0 0 0 214.52 450.48ZM205.02 431.37L196.52 435.13A250.4 250.4 0 0 1 190.88 421.28L199.59 418.03A241.1 241.1 0 0 0 205.02 431.37ZM191.28 390.99L182.25 393.2A250.4 250.4 0 0 1 180.56 385.82L189.66 383.89A241.1 241.1 0 0 0 191.28 390.99ZM188.03 292.11L178.87 290.5A250.4 250.4 0 0 1 181.9 275.85L190.95 278A241.1 241.1 0 0 0 188.03 292.11ZM192.65 271.27L183.67 268.85A250.4 250.4 0 0 1 185.74 261.58L194.65 264.26A241.1 241.1 0 0 0 192.65 271.27ZM217.24 212.32L209.21 207.63A250.4 250.4 0 0 1 213.12 201.16L221.01 206.08A241.1 241.1 0 0 0 217.24 212.32ZM251.45 166.96L244.73 160.53A250.4 250.4 0 0 1 255.4 150.04L261.72 156.87A241.1 241.1 0 0 0 251.45 166.96ZM307.51 123.54L302.96 115.43A250.4 250.4 0 0 1 309.62 111.83L313.92 120.07A241.1 241.1 0 0 0 307.51 123.54Z"/>
<path fill="#c6e1f1" d="M443.39 93.36L444.08 84.09A250.4 250.4 0 0 1 451.61 84.77L450.64 94.01A241.1 241.1 0 0 0 443.39 93.36ZM595.53 162.87L602.09 156.27A250.4 250.4 0 0 1 607.37 161.69L600.62 168.08A241.1 241.1 0 0 0 595.53 162.87ZM618.82 189.73L626.28 184.18A250.4 250.4 0 0 1 630.71 190.31L623.09 195.64A241.1 241.1 0 0 0 618.82 189.73ZM658.7 272.6L667.7 270.24A250.4 250.4 0 0 1 669.51 277.58L660.45 279.67A241.1 241.1 0 0 0 658.7 272.6ZM665.17 307.56L674.41 306.55A250.4 250.4 0 0 1 675.12 314.08L665.85 314.81A241.1 241.1 0 0 0 665.17 307.56ZM663.65 371.41L672.83 372.86A250.4 250.4 0 0 1 671.54 380.32L662.4 378.59A241.1 241.1 0 0 0 663.65 371.41ZM620.46 475.64L627.98 481.11A250.4 250.4 0 0 1 623.44 487.17L616.09 481.47A241.1 241.1 0 0 0 620.46 475.64ZM361.53 566.26L359.06 575.23A250.4 250.4 0 0 1 351.8 573.11L354.53 564.22A241.1 241.1 0 0 0 361.53 566.26ZM268.09 516.43L262.02 523.47A250.4 250.4 0 0 1 256.37 518.45L262.65 511.59A241.1 241.1 0 0 0 268.09 516.43ZM233.97 480.24L226.58 485.89A250.4 250.4 0 0 1 222.08 479.81L229.63 474.39A241.1 241.1 0 0 0 233.97 480.24ZM184.87 348.83L175.59 349.41A250.4 250.4 0 0 1 175.23 341.85L184.52 341.55A241.1 241.1 0 0 0 184.87 348.83ZM190.91 278.17L181.86 276.02A250.4 250.4 0 0 1 183.71 268.69L192.69 271.1A241.1 241.1 0 0 0 190.91 278.17ZM207.31 231.22L198.9 227.26A250.4 250.4 0 0 1 202.22 220.46L210.51 224.67A241.1 241.1 0 0 0 207.31 231.22Z"/>
<path fill="#baddf1" d="M436.28 92.94L436.7 83.65A250.4 250.4 0 0 1 444.25 84.1L443.55 93.38A241.1 241.1 0 0 0 436.28 92.94ZM519.16 111.64L522.78 103.07A250.4 250.4 0 0 1 536.38 109.29L532.26 117.63A241.1 241.1 0 0 0 519.16 111.64ZM562.75 135.58L568.05 127.94A250.4 250.4 0 0 1 574.2 132.34L568.68 139.82A241.1 241.1 0 0 0 562.75 135.58ZM645.42 432.62L653.9 436.44A250.4 250.4 0 0 1 647.36 449.89L639.12 445.58A241.1 241.1 0 0 0 645.42 432.62ZM570.76 526.23L576.36 533.65A250.4 250.4 0 0 1 564.16 542.3L559.01 534.56A241.1 241.1 0 0 0 570.76 526.23ZM515.13 557.62L518.59 566.25A250.4 250.4 0 0 1 504.55 571.4L501.61 562.57A241.1 241.1 0 0 0 515.13 557.62ZM375.36 569.63L373.42 578.72A250.4 250.4 0 0 1 366.05 577.04L368.25 568.01A241.1 241.1 0 0 0 375.36 569.63ZM296.66 537.59L291.69 545.45A250.4 250.4 0 0 1 285.36 541.31L290.57 533.6A241.1 241.1 0 0 0 296.66 537.59ZM199.65 418.19L190.94 421.44A250.4 250.4 0 0 1 188.4 414.31L197.2 411.32A241.1 241.1 0 0 0 199.65 418.19ZM189.7 384.05L180.6 385.99A250.4 250.4 0 0 1 179.13 378.57L188.28 376.9A241.1 241.1 0 0 0 189.7 384.05ZM187.14 370.05L177.95 371.45A250.4 250.4 0 0 1 176.92 363.95L186.15 362.83A241.1 241.1 0 0 0 187.14 370.05ZM213.75 218.52L205.58 214.07A250.4 250.4 0 0 1 209.3 207.48L217.33 212.17A241.1 241.1 0 0 0 213.75 218.52ZM301.36 127.12L296.57 119.14A250.4 250.4 0 0 1 303.12 115.35L307.66 123.46A241.1 241.1 0 0 0 301.36 127.12ZM339.72 108.48L336.41 99.78A250.4 250.4 0 0 1 343.52 97.2L346.57 105.99A241.1 241.1 0 0 0 339.72 108.48Z"/>
<path fill="#acd8f0" d="M464.58 95.89L466.09 86.71A250.4 250.4 0 0 1 473.54 88.05L471.75 97.18A241.1 241.1 0 0 0 464.58 95.89ZM622.99 195.5L630.61 190.17A250.4 250.4 0 0 1 634.86 196.43L627.08 201.53A241.1 241.1 0 0 0 622.99 195.5ZM652.38 252.21L661.13 249.06A250.4 250.4 0 0 1 663.58 256.22L654.74 259.1A241.1 241.1 0 0 0 652.38 252.21ZM660.41 279.51L669.47 277.41A250.4 250.4 0 0 1 671.06 284.81L661.94 286.63A241.1 241.1 0 0 0 660.41 279.51ZM664.29 300.5L673.5 299.21A250.4 250.4 0 0 1 674.43 306.72L665.19 307.73A241.1 241.1 0 0 0 664.29 300.5ZM665.84 314.65L675.11 313.91A250.4 250.4 0 0 1 675.6 321.46L666.31 321.92A241.1 241.1 0 0 0 665.84 314.65ZM666.04 350.2L675.32 350.83A250.4 250.4 0 0 1 674.69 358.37L665.44 357.46A241.1 241.1 0 0 0 666.04 350.2ZM662.43 378.42L671.57 380.15A250.4 250.4 0 0 1 670.06 387.56L660.98 385.56A241.1 241.1 0 0 0 662.43 378.42ZM650.86 419.47L659.56 422.78A250.4 250.4 0 0 1 653.83 436.59L645.35 432.78A241.1 241.1 0 0 0 650.86 419.47ZM624.56 469.83L632.24 475.07A250.4 250.4 0 0 1 627.88 481.26L620.36 475.78A241.1 241.1 0 0 0 624.56 469.83ZM553.17 538.32L558.09 546.21A250.4 250.4 0 0 1 551.62 550.12L546.93 542.09A241.1 241.1 0 0 0 553.17 538.32ZM534.58 548.81L538.79 557.11A250.4 250.4 0 0 1 518.43 566.32L514.98 557.68A241.1 241.1 0 0 0 534.58 548.81ZM460.28 572.38L461.62 581.58A250.4 250.4 0 0 1 432 584.12L431.76 574.82A241.1 241.1 0 0 0 460.28 572.38ZM396.41 573.14L395.29 582.37A250.4 250.4 0 0 1 380.5 580.12L382.17 570.98A241.1 241.1 0 0 0 396.41 573.14ZM302.74 541.3L298 549.31A250.4 250.4 0 0 1 291.55 545.36L296.52 537.5A241.1 241.1 0 0 0 302.74 541.3ZM229.73 474.53L222.18 479.96A250.4 250.4 0 0 1 213.82 467.56L221.68 462.59A241.1 241.1 0 0 0 229.73 474.53ZM193.07 397.88L184.11 400.35A250.4 250.4 0 0 1 182.21 393.03L191.24 390.83A241.1 241.1 0 0 0 193.07 397.88ZM188.31 377.07L179.17 378.74A250.4 250.4 0 0 1 177.92 371.28L187.12 369.88A241.1 241.1 0 0 0 188.31 377.07ZM186.17 363L176.94 364.13A250.4 250.4 0 0 1 175.58 349.23L184.86 348.66A241.1 241.1 0 0 0 186.17 363ZM184.53 341.72L175.24 342.02A250.4 250.4 0 0 1 175.19 327.07L184.49 327.32A241.1 241.1 0 0 0 184.53 341.72ZM184.77 320.37L175.49 319.85A250.4 250.4 0 0 1 177.73 297.62L186.93 298.97A241.1 241.1 0 0 0 184.77 320.37ZM204.38 237.7L195.85 233.99A250.4 250.4 0 0 1 198.97 227.1L207.38 231.06A241.1 241.1 0 0 0 204.38 237.7ZM210.44 224.82L202.14 220.62A250.4 250.4 0 0 1 205.66 213.92L213.83 218.37A241.1 241.1 0 0 0 210.44 224.82ZM220.92 206.23L213.03 201.3A250.4 250.4 0 0 1 234.94 171.36L242.01 177.4A241.1 241.1 0 0 0 220.92 206.23ZM246.6 172.17L239.7 165.94A250.4 250.4 0 0 1 244.85 160.4L251.56 166.84A241.1 241.1 0 0 0 246.6 172.17ZM261.59 156.98L255.27 150.16A250.4 250.4 0 0 1 278.23 131.28L283.7 138.81A241.1 241.1 0 0 0 261.59 156.98ZM295.31 130.87L290.29 123.04A250.4 250.4 0 0 1 296.72 119.05L301.5 127.03A241.1 241.1 0 0 0 295.31 130.87ZM326.57 113.93L322.76 105.45A250.4 250.4 0 0 1 329.7 102.45L333.26 111.04A241.1 241.1 0 0 0 326.57 113.93Z"/>
<path fill="#9ed4f0" d="M457.54 94.84L458.78 85.62A250.4 250.4 0 0 1 466.26 86.74L464.75 95.92A241.1 241.1 0 0 0 457.54 94.84ZM471.59 97.15L473.36 88.02A250.4 250.4 0 0 1 495.08 93.26L492.5 102.2A241.1 241.1 0 0 0 471.59 97.15ZM499.15 104.22L501.99 95.37A250.4 250.4 0 0 1 522.94 103.14L519.32 111.7A241.1 241.1 0 0 0 499.15 104.22ZM532.11 117.55L536.22 109.21A250.4 250.4 0 0 1 555.8 119.97L550.96 127.92A241.1 241.1 0 0 0 532.11 117.55ZM574.21 144.03L579.95 136.71A250.4 250.4 0 0 1 591.44 146.28L585.28 153.24A241.1 241.1 0 0 0 574.21 144.03ZM600.5 167.96L607.25 161.56A250.4 250.4 0 0 1 617.21 172.72L610.09 178.7A241.1 241.1 0 0 0 600.5 167.96ZM614.49 184.09L621.78 178.31A250.4 250.4 0 0 1 626.38 184.32L618.92 189.87A241.1 241.1 0 0 0 614.49 184.09ZM626.99 201.39L634.76 196.28A250.4 250.4 0 0 1 638.82 202.67L630.9 207.54A241.1 241.1 0 0 0 626.99 201.39ZM641.18 226.05L649.5 221.89A250.4 250.4 0 0 1 652.78 228.71L644.34 232.62A241.1 241.1 0 0 0 641.18 226.05ZM654.68 258.94L663.53 256.06A250.4 250.4 0 0 1 667.74 270.41L658.75 272.76A241.1 241.1 0 0 0 654.68 258.94ZM661.91 286.46L671.03 284.64A250.4 250.4 0 0 1 673.52 299.39L664.31 300.66A241.1 241.1 0 0 0 661.91 286.46ZM666.59 335.98L675.89 336.06A250.4 250.4 0 0 1 675.31 351.01L666.03 350.37A241.1 241.1 0 0 0 666.59 335.98ZM665.45 357.29L674.71 358.2A250.4 250.4 0 0 1 672.81 373.03L663.62 371.58A241.1 241.1 0 0 0 665.45 357.29ZM657.56 399.21L666.51 401.73A250.4 250.4 0 0 1 662.02 416L653.24 412.94A241.1 241.1 0 0 0 657.56 399.21ZM639.2 445.43L647.44 449.73A250.4 250.4 0 0 1 636.23 469.06L628.4 464.03A241.1 241.1 0 0 0 639.2 445.43ZM576.38 521.86L582.2 529.11A250.4 250.4 0 0 1 576.22 533.76L570.62 526.33A241.1 241.1 0 0 0 576.38 521.86ZM559.15 534.47L564.31 542.21A250.4 250.4 0 0 1 557.95 546.3L553.03 538.41A241.1 241.1 0 0 0 559.15 534.47ZM547.08 542L551.77 550.03A250.4 250.4 0 0 1 545.18 553.75L540.73 545.58A241.1 241.1 0 0 0 547.08 542ZM494.99 564.67L497.67 573.57A250.4 250.4 0 0 1 490.39 575.65L487.98 566.66A241.1 241.1 0 0 0 494.99 564.67ZM417.7 574.77L417.39 584.07A250.4 250.4 0 0 1 402.47 583.14L403.32 573.88A241.1 241.1 0 0 0 417.7 574.77ZM382.34 571.01L380.68 580.16A250.4 250.4 0 0 1 373.25 578.69L375.19 569.59A241.1 241.1 0 0 0 382.34 571.01ZM341.22 559.69L337.97 568.4A250.4 250.4 0 0 1 297.85 549.22L302.59 541.22A241.1 241.1 0 0 0 341.22 559.69ZM279.14 525.4L273.5 532.79A250.4 250.4 0 0 1 261.89 523.36L267.97 516.32A241.1 241.1 0 0 0 279.14 525.4ZM257.59 506.82L251.11 513.49A250.4 250.4 0 0 1 240.7 502.76L247.56 496.49A241.1 241.1 0 0 0 257.59 506.82ZM211.16 444.21L202.9 448.46A250.4 250.4 0 0 1 196.45 434.97L204.95 431.21A241.1 241.1 0 0 0 211.16 444.21ZM197.26 411.48L188.45 414.48A250.4 250.4 0 0 1 184.06 400.18L193.03 397.72A241.1 241.1 0 0 0 197.26 411.48ZM196.75 257.64L187.92 254.7A250.4 250.4 0 0 1 195.92 233.83L204.45 237.55A241.1 241.1 0 0 0 196.75 257.64Z"/>
</g>
<path fill="#f5665f" d="M423.71 71L423.71 69.8L427.71 69.8L427.71 71ZM439.22 71.35L439.26 70.75L443.25 70.99L443.21 71.59ZM446.96 71.87L447.01 71.27L451 71.63L450.94 72.23ZM454.68 72.62L454.75 72.02L458.73 72.5L458.65 73.09ZM462.38 73.59L463.52 65.98L467.47 66.57L466.34 74.18ZM470.04 74.79L470.4 72.83L474.33 73.53L473.98 75.5ZM477.67 76.22L477.79 75.64L481.71 76.46L481.58 77.05ZM485.25 77.87L486.07 74.47L489.96 75.41L489.14 78.81ZM492.78 79.75L493.83 75.89L497.69 76.94L496.64 80.8ZM500.25 81.85L500.42 81.27L504.25 82.44L504.07 83.01ZM507.65 84.16L508.13 82.74L511.92 84.02L511.44 85.44ZM514.98 86.7L522.28 67.01L526.04 68.4L518.73 88.09ZM522.24 89.44L522.46 88.89L526.17 90.39L525.95 90.95ZM529.41 92.41L529.65 91.86L533.31 93.47L533.07 94.02ZM536.49 95.58L539.06 90.16L542.68 91.88L540.1 97.3ZM550.35 102.54L558.78 87.21L562.29 89.14L553.86 104.47ZM557.12 106.33L557.43 105.81L560.88 107.84L560.57 108.36ZM563.78 110.31L568.89 102.19L572.28 104.32L567.17 112.44ZM570.32 114.49L570.65 113.99L573.97 116.22L573.64 116.72ZM576.73 118.86L577.08 118.37L580.33 120.7L579.98 121.19ZM589.15 128.16L591.03 125.83L594.14 128.34L592.26 130.68ZM595.15 133.08L601.33 125.87L604.37 128.48L598.18 135.69ZM601 138.18L601.4 137.73L604.36 140.43L603.95 140.87ZM622.82 160.21L623.27 159.82L625.89 162.84L625.44 163.24ZM632.72 172.16L640.65 166.07L643.09 169.24L635.16 175.33ZM654.24 204.39L654.76 204.1L656.71 207.6L656.18 207.89ZM661.48 218.12L663.73 217.03L665.46 220.64L663.21 221.72ZM664.79 225.13L666.62 224.32L668.24 227.97L666.41 228.79ZM667.89 232.24L668.82 231.86L670.33 235.56L669.41 235.94ZM688.03 345.9L696.02 346.33L695.8 350.32L687.81 349.89ZM687.56 353.64L695.53 354.31L695.2 358.29L687.23 357.63ZM685.93 369.07L686.52 369.16L685.96 373.12L685.36 373.03ZM684.78 376.74L685.37 376.85L684.68 380.79L684.09 380.68ZM679.96 399.51L681.41 399.89L680.38 403.76L678.93 403.37ZM677.91 406.99L680.79 407.85L679.64 411.68L676.77 410.82ZM675.64 414.41L677.06 414.88L675.81 418.68L674.38 418.21ZM664.4 443.32L664.95 443.57L663.25 447.19L662.71 446.94ZM632.15 496.17L635.27 498.67L632.78 501.8L629.65 499.3ZM627.26 502.2L627.72 502.59L625.13 505.64L624.68 505.25ZM622.2 508.08L622.65 508.49L619.98 511.46L619.53 511.06ZM616.97 513.81L617.41 514.23L614.65 517.12L614.21 516.71ZM611.58 519.39L612.63 520.46L609.79 523.27L608.73 522.2ZM575.97 549.27L583.61 560.4L580.31 562.66L572.67 551.54ZM562.99 557.77L564.54 560.34L561.11 562.41L559.56 559.84ZM556.32 561.74L557.79 564.35L554.31 566.31L552.83 563.7ZM549.53 565.5L550.46 567.27L546.92 569.13L545.99 567.36ZM542.64 569.06L543.52 570.85L539.92 572.61L539.05 570.81ZM528.55 575.56L537.03 595.86L533.33 597.4L524.86 577.1ZM521.37 578.5L521.59 579.06L517.85 580.49L517.64 579.93ZM514.11 581.22L514.31 581.79L510.53 583.11L510.33 582.54ZM499.35 586.02L505.24 606.7L501.39 607.79L495.51 587.11ZM453.76 595.08L453.91 596.58L449.93 596.98L449.78 595.48ZM446.03 595.8L446.14 597.3L442.15 597.58L442.04 596.09ZM415.02 596.4L414.95 597.9L410.96 597.71L411.03 596.21ZM391.84 594.44L391.57 596.42L387.6 595.88L387.87 593.9ZM384.16 593.34L381.85 607.14L377.91 606.48L380.21 592.68ZM376.52 592L372.64 611.62L368.72 610.85L372.59 591.23ZM368.92 590.44L367.91 594.83L364.01 593.94L365.02 589.55ZM361.37 588.66L360.99 590.11L357.12 589.11L357.49 587.66ZM353.87 586.66L351.91 593.38L348.07 592.26L350.03 585.54ZM324.58 576.46L321.84 582.9L318.16 581.34L320.9 574.89ZM317.46 573.37L308.68 592.45L305.05 590.78L313.83 571.7ZM310.44 570.08L307.33 576.35L303.74 574.57L306.85 568.3ZM303.51 566.58L302.57 568.35L299.04 566.46L299.98 564.7ZM296.7 562.88L285.77 581.97L282.3 579.99L293.22 560.89ZM283.4 554.88L283.07 555.38L279.73 553.19L280.05 552.69ZM276.94 550.59L276.6 551.08L273.31 548.8L273.66 548.3ZM252.43 531.58L244.46 540.55L241.47 537.89L249.44 528.92ZM246.67 526.38L245.64 527.47L242.73 524.73L243.76 523.64ZM241.06 521.02L236.82 525.26L233.99 522.43L238.24 518.19ZM235.62 515.49L226.52 524.07L223.78 521.16L232.88 512.58ZM220.29 497.99L218.33 499.54L215.85 496.39L217.82 494.85ZM206.57 479.19L203.23 481.38L201.04 478.03L204.39 475.85ZM184.38 438.34L183.83 438.58L182.27 434.9L182.82 434.66ZM165.39 371.36L164.8 371.45L164.25 367.48L164.85 367.4ZM164.4 363.67L150.47 365.16L150.05 361.18L163.97 359.69ZM163.22 317.2L145.26 315.92L145.55 311.93L163.5 313.21ZM165.71 294.06L165.12 293.97L165.76 290.02L166.35 290.11ZM167 286.41L152.27 283.6L153.02 279.67L167.75 282.48ZM172.2 263.73L169.32 262.91L170.41 259.07L173.3 259.89ZM188.51 220.2L178.63 215.37L180.39 211.78L190.27 216.61ZM199.49 199.68L187.5 192.45L189.57 189.02L201.56 196.26ZM203.55 193.07L200.19 190.9L202.35 187.54L205.71 189.71ZM237.14 150.52L236.72 150.1L239.53 147.26L239.96 147.68ZM285.26 111.54L284.94 111.03L288.34 108.92L288.65 109.43ZM291.88 107.5L286.86 98.85L290.32 96.84L295.34 105.49ZM298.61 103.65L298.33 103.12L301.85 101.22L302.13 101.75ZM305.46 100.01L299.16 87.5L302.74 85.7L309.04 98.21ZM312.42 96.57L310.3 92.04L313.92 90.34L316.04 94.87ZM319.47 93.33L318.87 91.95L322.55 90.37L323.14 91.75Z"/>
<path fill="#0fb4b9" d="M465.6 50.01L465.71 49.32L470.25 50L470.15 50.69ZM597.18 104.3L597.6 103.74L601.26 106.52L600.84 107.08ZM646.11 150.83L646.88 150.2L649.79 153.77L649.02 154.4ZM661.43 171.06L662.01 170.67L664.59 174.48L664.01 174.87ZM666.13 178.1L667.82 177.03L670.28 180.91L668.6 181.98ZM670.62 185.27L672.34 184.25L674.69 188.2L672.97 189.22ZM692.96 230.78L693.61 230.54L695.23 234.84L694.57 235.09ZM695.88 238.72L697.3 238.24L698.79 242.59L697.37 243.07ZM698.57 246.75L720.06 240.08L721.42 244.48L699.93 251.14ZM701.02 254.84L709.21 252.57L710.44 257L702.25 259.28ZM705.2 271.24L705.88 271.09L706.85 275.59L706.17 275.74ZM706.92 279.52L725.12 276.16L725.95 280.69L707.76 284.05ZM708.4 287.85L730.64 284.42L731.34 288.97L709.1 292.4ZM709.64 296.22L732.46 293.39L733.03 297.96L710.2 300.79ZM710.62 304.63L720.08 303.73L720.51 308.31L711.05 309.21ZM711.36 313.05L713.35 312.93L713.65 317.52L711.65 317.64ZM711.85 321.5L712.54 321.48L712.71 326.07L712.01 326.1ZM712.07 338.42L712.77 338.44L712.66 343.03L711.96 343.02ZM709.53 372.15L710.23 372.25L709.57 376.8L708.88 376.7ZM706.77 388.84L707.75 389.04L706.83 393.55L705.85 393.35ZM700.8 413.5L702.72 414.08L701.41 418.48L699.49 417.91ZM698.33 421.6L699.76 422.07L698.31 426.43L696.89 425.96ZM695.62 429.61L697.03 430.12L695.46 434.45L694.05 433.93ZM682.45 460.77L683.79 461.44L681.72 465.55L680.38 464.87ZM670.22 483L671.91 484.05L669.49 487.96L667.79 486.9ZM660.99 497.18L664.25 499.48L661.6 503.24L658.33 500.93ZM656.06 504.05L666.46 511.86L663.69 515.54L653.3 507.73ZM622.45 542.02L622.93 542.53L619.56 545.66L619.09 545.15ZM616.22 547.74L616.68 548.27L613.23 551.3L612.76 550.77ZM609.82 553.28L611.42 555.2L607.87 558.13L606.28 556.21ZM603.27 558.62L605.72 561.78L602.09 564.6L599.63 561.44ZM596.55 563.77L596.97 564.33L593.25 567.05L592.84 566.49ZM575.54 578L575.9 578.6L571.96 580.97L571.6 580.37ZM553.36 590.31L553.66 590.94L549.53 592.96L549.22 592.33ZM545.73 593.97L546.02 594.61L541.83 596.51L541.54 595.87ZM538 597.41L538.27 598.05L534.02 599.83L533.75 599.18ZM530.17 600.61L530.42 601.27L526.12 602.91L525.87 602.26ZM506.16 608.83L509.17 619.41L504.74 620.67L501.73 610.09ZM473.19 616.41L473.31 617.1L468.76 617.83L468.65 617.14ZM405.74 619.73L405.44 623.72L400.85 623.36L401.16 619.37ZM397.31 619.02L397.24 619.72L392.67 619.23L392.74 618.53ZM388.91 618.06L388.81 618.76L384.25 618.13L384.35 617.44ZM372.2 615.41L372.06 616.1L367.55 615.2L367.68 614.52ZM363.91 613.71L363.57 615.18L359.09 614.15L359.42 612.69ZM339.39 607.17L339.18 607.83L334.8 606.42L335.02 605.75ZM323.41 601.61L323.16 602.26L318.87 600.59L319.13 599.94ZM300.12 591.53L299.01 593.77L294.89 591.73L296 589.49ZM285.13 583.68L284.14 585.42L280.15 583.14L281.14 581.4ZM277.82 579.43L277.45 580.03L273.53 577.63L273.9 577.03ZM218.5 532.04L217.41 533.07L214.26 529.72L215.35 528.69ZM212.74 525.84L212.22 526.3L209.17 522.87L209.69 522.4ZM182.23 485.35L181.64 485.71L179.24 481.79L179.83 481.42ZM177.87 478.1L177.26 478.45L174.98 474.46L175.58 474.11ZM169.78 463.24L163.51 466.35L161.47 462.23L167.74 459.12ZM139.33 349.64L138.63 349.67L138.41 345.07L139.11 345.04ZM138.99 341.18L136.99 341.22L136.9 336.62L138.9 336.58ZM138.89 332.72L136.89 332.7L136.95 328.1L138.95 328.12ZM139.05 324.26L138.35 324.23L138.54 319.64L139.24 319.67ZM140.11 307.38L136.63 307.03L137.09 302.45L140.57 302.8ZM141.02 298.96L131.1 297.67L131.7 293.11L141.61 294.4ZM147.1 265.69L145.16 265.2L146.29 260.74L148.23 261.23ZM154.22 241.33L136.28 235.06L137.8 230.72L155.74 236.99ZM157.06 233.37L156.41 233.12L158.06 228.82L158.71 229.07ZM160.15 225.49L147.69 220.29L149.46 216.04L161.92 221.24ZM167 210.02L166.37 209.71L168.39 205.58L169.02 205.89ZM183.38 180.43L182.79 180.05L185.29 176.18L185.87 176.56ZM188.01 173.35L187.44 172.95L190.04 169.16L190.62 169.56ZM192.85 166.41L191.24 165.23L193.96 161.51L195.57 162.69ZM197.9 159.61L185.27 149.79L188.09 146.16L200.72 155.98ZM208.57 146.49L208.05 146.02L211.08 142.57L211.61 143.03ZM214.19 140.16L198.83 125.85L201.96 122.49L217.33 136.8ZM220 134.01L218.22 132.25L221.46 128.98L223.24 130.74ZM225.99 128.03L218.4 120.07L221.72 116.9L229.32 124.86ZM232.15 122.23L218.44 106.99L221.86 103.91L235.57 119.16ZM238.48 116.62L238.03 116.08L241.54 113.11L241.99 113.64ZM251.62 105.96L238.41 88.37L242.09 85.6L255.3 103.2ZM258.42 100.93L256.4 98.07L260.16 95.42L262.18 98.28ZM272.45 91.47L270.87 88.93L274.78 86.5L276.36 89.05ZM317.55 68.3L317.29 67.65L321.56 65.95L321.82 66.6ZM325.43 65.23L325.19 64.57L329.51 63L329.75 63.66Z"/>
<g id="labbg">
<path fill="#9e99cd" d="M422.35 113.62L422.09 95.22A238.6 238.6 0 0 1 436.34 95.45L435.5 113.83A220.2 220.2 0 0 0 422.35 113.62ZM435.27 115.62L436.17 95.44A238.6 238.6 0 0 1 457.37 97.34L454.68 117.36A218.4 218.4 0 0 0 435.27 115.62ZM454.76 115.55L457.21 97.32A238.6 238.6 0 0 1 471.27 99.63L467.74 117.69A220.2 220.2 0 0 0 454.76 115.55ZM480.27 120.52L484.85 102.7A238.6 238.6 0 0 1 505.21 108.91L499.07 126.25A220.2 220.2 0 0 0 480.27 120.52ZM511.04 130.9L518.19 113.94A238.6 238.6 0 0 1 524.79 116.84L517.14 133.57A220.2 220.2 0 0 0 511.04 130.9ZM516.25 135.15L524.64 116.77A238.6 238.6 0 0 1 531.15 119.87L522.21 137.98A218.4 218.4 0 0 0 516.25 135.15ZM522.87 136.3L531 119.79A238.6 238.6 0 0 1 537.42 123.08L528.79 139.33A220.2 220.2 0 0 0 522.87 136.3ZM544.48 150.65L555.48 133.71A238.6 238.6 0 0 1 561.47 137.73L549.96 154.33A218.4 218.4 0 0 0 544.48 150.65ZM550.86 152.76L561.33 137.64A238.6 238.6 0 0 1 572.8 146.1L561.44 160.57A220.2 220.2 0 0 0 550.86 152.76ZM560.21 161.89L572.67 145.99A238.6 238.6 0 0 1 578.28 150.53L565.34 166.04A218.4 218.4 0 0 0 560.21 161.89ZM574.89 174.48L588.7 159.75A238.6 238.6 0 0 1 593.89 164.76L579.63 179.07A218.4 218.4 0 0 0 574.89 174.48ZM602.06 202.22L616.82 191.23A238.6 238.6 0 0 1 624.99 202.9L609.61 213A220.2 220.2 0 0 0 602.06 202.22ZM608.02 213.86L624.9 202.76A238.6 238.6 0 0 1 628.77 208.85L611.56 219.43A218.4 218.4 0 0 0 608.02 213.86ZM622.49 235.39L638.95 227.17A238.6 238.6 0 0 1 642.07 233.67L625.37 241.39A220.2 220.2 0 0 0 622.49 235.39ZM638.49 277.9L656.28 273.23A238.6 238.6 0 0 1 658.01 280.23L640.08 284.36A220.2 220.2 0 0 0 638.49 277.9ZM643.59 303.38L661.81 300.84A238.6 238.6 0 0 1 662.7 308L644.41 309.99A220.2 220.2 0 0 0 643.59 303.38ZM645.69 335.79L664.09 335.96A238.6 238.6 0 0 1 663.54 350.2L645.18 348.93A220.2 220.2 0 0 0 645.69 335.79ZM643 368.15L661.18 371.02A238.6 238.6 0 0 1 659.95 378.13L641.87 374.71A220.2 220.2 0 0 0 643 368.15ZM643.66 374.89L659.98 377.96A238.6 238.6 0 0 1 658.54 385.03L642.32 381.46A222 222 0 0 0 643.66 374.89ZM638.84 380.54L658.57 384.86A238.6 238.6 0 0 1 648.47 418.74L629.59 411.55A218.4 218.4 0 0 0 638.84 380.54ZM631.33 412.05L648.53 418.59A238.6 238.6 0 0 1 645.86 425.29L628.87 418.23A220.2 220.2 0 0 0 631.33 412.05ZM620.68 435.75L636.99 444.27A238.6 238.6 0 0 1 633.55 450.61L617.51 441.6A220.2 220.2 0 0 0 620.68 435.75ZM614.32 447.09L630.1 456.56A238.6 238.6 0 0 1 626.3 462.68L610.81 452.74A220.2 220.2 0 0 0 614.32 447.09ZM609.38 451.64L626.39 462.54A238.6 238.6 0 0 1 618.34 474.31L602.02 462.41A218.4 218.4 0 0 0 609.38 451.64ZM599.66 468.55L614.21 479.81A238.6 238.6 0 0 1 609.71 485.44L595.51 473.75A220.2 220.2 0 0 0 599.66 468.55ZM594.22 472.49L609.82 485.31A238.6 238.6 0 0 1 605.16 490.81L589.95 477.52A218.4 218.4 0 0 0 594.22 472.49ZM591.4 478.59L605.27 490.69A238.6 238.6 0 0 1 590.57 506.09L577.84 492.8A220.2 220.2 0 0 0 591.4 478.59ZM574.4 498.46L585.53 510.77A238.6 238.6 0 0 1 580.11 515.53L569.36 502.88A222 222 0 0 0 574.4 498.46ZM567.14 500.04L580.24 515.42A238.6 238.6 0 0 1 574.68 520.01L562.05 504.25A218.4 218.4 0 0 0 567.14 500.04ZM557.08 508.11L569.25 524.23A238.6 238.6 0 0 1 545.67 539.93L535.5 522.48A218.4 218.4 0 0 0 557.08 508.11ZM531.74 528.73L539.68 543.31A238.6 238.6 0 0 1 533.3 546.66L525.8 531.85A222 222 0 0 0 531.74 528.73ZM525.12 530.17L533.45 546.58A238.6 238.6 0 0 1 526.97 549.75L519.15 533.1A220.2 220.2 0 0 0 525.12 530.17ZM518.52 531.4L527.12 549.68A238.6 238.6 0 0 1 520.55 552.65L512.5 534.12A218.4 218.4 0 0 0 518.52 531.4ZM513.36 535.71L520.7 552.58A238.6 238.6 0 0 1 514.05 555.36L507.22 538.27A220.2 220.2 0 0 0 513.36 535.71ZM500.68 538.85L507.63 557.82A238.6 238.6 0 0 1 494.11 562.32L488.3 542.98A218.4 218.4 0 0 0 500.68 538.85ZM482.71 546.44L487.49 564.21A238.6 238.6 0 0 1 480.5 565.97L476.26 548.07A220.2 220.2 0 0 0 482.71 546.44ZM470.07 549.44L473.79 567.46A238.6 238.6 0 0 1 466.71 568.81L463.53 550.69A220.2 220.2 0 0 0 470.07 549.44ZM457 549.92L459.92 569.9A238.6 238.6 0 0 1 445.76 571.54L444.04 551.41A218.4 218.4 0 0 0 457 549.92ZM444.35 553.19L445.92 571.52A238.6 238.6 0 0 1 438.73 572.03L437.71 553.66A220.2 220.2 0 0 0 444.35 553.19ZM437.76 551.86L438.9 572.02A238.6 238.6 0 0 1 424.65 572.4L424.72 552.2A218.4 218.4 0 0 0 437.76 551.86ZM418.43 552.09L417.78 572.27A238.6 238.6 0 0 1 410.57 571.93L411.84 551.77A218.4 218.4 0 0 0 418.43 552.09ZM399.15 550.6L396.71 570.66A238.6 238.6 0 0 1 389.57 569.68L392.61 549.71A218.4 218.4 0 0 0 399.15 550.6ZM392.49 551.51L389.74 569.7A238.6 238.6 0 0 1 382.62 568.52L385.93 550.42A220.2 220.2 0 0 0 392.49 551.51ZM386.4 548.67L382.79 568.55A238.6 238.6 0 0 1 375.71 567.15L379.93 547.39A218.4 218.4 0 0 0 386.4 548.67ZM373.79 545.99L369.01 565.62A238.6 238.6 0 0 1 362.03 563.8L367.41 544.33A218.4 218.4 0 0 0 373.79 545.99ZM360.83 544.29L355.43 561.88A238.6 238.6 0 0 1 348.57 559.66L354.5 542.24A220.2 220.2 0 0 0 360.83 544.29ZM348.53 540.11L342.09 557.35A238.6 238.6 0 0 1 335.38 554.72L342.33 537.69A220.2 220.2 0 0 0 348.53 540.11ZM337.21 533.56L329.05 552.04A238.6 238.6 0 0 1 322.5 549.02L331.22 530.8A218.4 218.4 0 0 0 337.21 533.56ZM324.76 529.6L316.34 545.96A238.6 238.6 0 0 1 309.98 542.57L318.89 526.47A220.2 220.2 0 0 0 324.76 529.6ZM314.29 521.77L304.01 539.15A238.6 238.6 0 0 1 297.86 535.39L308.67 518.32A218.4 218.4 0 0 0 314.29 521.77ZM302.39 516.37L292.1 531.63A238.6 238.6 0 0 1 264.34 509.74L276.76 496.18A220.2 220.2 0 0 0 302.39 516.37ZM278.09 494.95L264.46 509.86A238.6 238.6 0 0 1 259.21 504.91L273.29 490.42A218.4 218.4 0 0 0 278.09 494.95ZM272.15 491.82L259.33 505.03A238.6 238.6 0 0 1 254.24 499.93L267.44 487.12A220.2 220.2 0 0 0 272.15 491.82ZM268.84 485.97L254.35 500.05A238.6 238.6 0 0 1 244.73 489.53L260.03 476.35A218.4 218.4 0 0 0 268.84 485.97ZM256 471.52L240.32 484.26A238.6 238.6 0 0 1 235.86 478.59L251.91 466.34A218.4 218.4 0 0 0 256 471.52ZM250.57 467.55L235.96 478.73A238.6 238.6 0 0 1 231.67 472.93L246.61 462.2A220.2 220.2 0 0 0 250.57 467.55ZM242.99 456.99L227.74 467.29A238.6 238.6 0 0 1 223.79 461.25L239.35 451.42A220.2 220.2 0 0 0 242.99 456.99ZM237.91 452.52L223.88 461.39A238.6 238.6 0 0 1 216.62 449.13L231.16 441.1A222 222 0 0 0 237.91 452.52ZM229.74 434.63L213.39 443.06A238.6 238.6 0 0 1 207.24 430.2L224.07 422.77A220.2 220.2 0 0 0 229.74 434.63ZM225.78 422.18L207.31 430.35A238.6 238.6 0 0 1 201.93 417.15L220.86 410.1A218.4 218.4 0 0 0 225.78 422.18ZM219.23 410.87L201.99 417.31A238.6 238.6 0 0 1 199.57 410.52L216.99 404.6A220.2 220.2 0 0 0 219.23 410.87ZM218.75 404.17L199.62 410.68A238.6 238.6 0 0 1 197.4 403.82L216.72 397.89A218.4 218.4 0 0 0 218.75 404.17ZM215.04 398.56L197.45 403.98A238.6 238.6 0 0 1 195.44 397.05L213.18 392.18A220.2 220.2 0 0 0 215.04 398.56ZM211.58 386.03L193.71 390.4A238.6 238.6 0 0 1 192.11 383.37L210.1 379.55A220.2 220.2 0 0 0 211.58 386.03ZM211.9 379.32L192.14 383.53A238.6 238.6 0 0 1 190.74 376.46L210.62 372.85A218.4 218.4 0 0 0 211.9 379.32ZM208.88 373.32L190.77 376.62A238.6 238.6 0 0 1 187.89 355.53L206.21 353.85A220.2 220.2 0 0 0 208.88 373.32ZM208.02 353.84L187.91 355.69A238.6 238.6 0 0 1 187.02 341.47L207.21 340.82A218.4 218.4 0 0 0 208.02 353.84ZM205.3 334.53L186.9 334.59A238.6 238.6 0 0 1 186.99 327.38L205.38 327.88A220.2 220.2 0 0 0 205.3 334.53ZM207.17 328.08L186.98 327.55A238.6 238.6 0 0 1 187.28 320.35L207.45 321.48A218.4 218.4 0 0 0 207.17 328.08ZM207.59 302.14L189.38 299.49A238.6 238.6 0 0 1 190.52 292.37L208.64 295.57A220.2 220.2 0 0 0 207.59 302.14ZM209.84 289.34L191.82 285.62A238.6 238.6 0 0 1 193.38 278.58L211.28 282.84A220.2 220.2 0 0 0 209.84 289.34ZM212.84 276.69L195.07 271.91A238.6 238.6 0 0 1 197.04 264.98L214.66 270.29A220.2 220.2 0 0 0 212.84 276.69ZM216.34 270.95L196.99 265.14A238.6 238.6 0 0 1 199.17 258.27L218.33 264.66A218.4 218.4 0 0 0 216.34 270.95ZM218.72 258.1L201.44 251.78A238.6 238.6 0 0 1 204.02 245.04L221.1 251.89A220.2 220.2 0 0 0 218.72 258.1ZM227.86 240.87L209.58 232.28A238.6 238.6 0 0 1 212.74 225.8L230.75 234.95A218.4 218.4 0 0 0 227.86 240.87ZM229.08 234.27L212.67 225.95A238.6 238.6 0 0 1 216.02 219.57L232.18 228.38A220.2 220.2 0 0 0 229.08 234.27ZM233.68 229.37L215.94 219.72A238.6 238.6 0 0 1 219.48 213.44L236.93 223.63A218.4 218.4 0 0 0 233.68 229.37ZM235.29 222.85L219.4 213.58A238.6 238.6 0 0 1 230.94 195.69L245.94 206.34A220.2 220.2 0 0 0 235.29 222.85ZM247.32 207.5L230.84 195.82A238.6 238.6 0 0 1 235.1 190L251.22 202.18A218.4 218.4 0 0 0 247.32 207.5ZM255.08 197.21L239.32 184.58A238.6 238.6 0 0 1 243.92 179.02L259.29 192.12A218.4 218.4 0 0 0 255.08 197.21ZM296.93 157.25L285.04 140.93A238.6 238.6 0 0 1 290.93 136.77L302.32 153.45A218.4 218.4 0 0 0 296.93 157.25ZM307.57 149.98L296.66 132.97A238.6 238.6 0 0 1 302.79 129.17L313.18 146.5A218.4 218.4 0 0 0 307.57 149.98ZM312.12 145.03L302.65 129.26A238.6 238.6 0 0 1 315.08 122.29L323.59 138.6A220.2 220.2 0 0 0 312.12 145.03ZM330.05 137.36L321.22 119.19A238.6 238.6 0 0 1 327.75 116.14L336.03 134.57A218.4 218.4 0 0 0 330.05 137.36ZM335.15 132.99L327.6 116.21A238.6 238.6 0 0 1 334.22 113.35L341.26 130.35A220.2 220.2 0 0 0 335.15 132.99ZM341.81 132.07L334.07 113.41A238.6 238.6 0 0 1 347.39 108.35L354 127.44A218.4 218.4 0 0 0 341.81 132.07Z"/>
<path fill="#fbd5c0" d="M467.59 117.66L471.11 99.6A238.6 238.6 0 0 1 485.01 102.74L480.42 120.56A220.2 220.2 0 0 0 467.59 117.66ZM498.32 127.9L505.06 108.85A238.6 238.6 0 0 1 511.82 111.36L504.51 130.19A218.4 218.4 0 0 0 498.32 127.9ZM528.65 139.26L537.27 123A238.6 238.6 0 0 1 543.59 126.47L534.49 142.46A220.2 220.2 0 0 0 528.65 139.26ZM533.46 143.95L543.45 126.39A238.6 238.6 0 0 1 555.62 133.8L544.6 150.74A218.4 218.4 0 0 0 533.46 143.95ZM565.23 165.94L578.15 150.42A238.6 238.6 0 0 1 588.82 159.86L575 174.59A218.4 218.4 0 0 0 565.23 165.94ZM585.33 182.34L598.69 169.68A238.6 238.6 0 0 1 603.57 174.99L589.84 187.23A220.2 220.2 0 0 0 585.33 182.34ZM588.39 188.32L603.46 174.86A238.6 238.6 0 0 1 608.18 180.31L592.71 193.31A218.4 218.4 0 0 0 588.39 188.32ZM596.69 198.18L612.53 185.64A238.6 238.6 0 0 1 616.92 191.36L600.71 203.42A218.4 218.4 0 0 0 596.69 198.18ZM627.95 247.19L644.87 239.95A238.6 238.6 0 0 1 647.6 246.62L630.47 253.34A220.2 220.2 0 0 0 627.95 247.19ZM643.39 348.66L663.55 350.03A238.6 238.6 0 0 1 662.95 357.22L642.85 355.23A218.4 218.4 0 0 0 643.39 348.66ZM627.27 417.4L645.93 425.13A238.6 238.6 0 0 1 643.07 431.75L624.65 423.46A218.4 218.4 0 0 0 627.27 417.4ZM536.54 523.95L545.82 539.84A238.6 238.6 0 0 1 539.54 543.38L530.74 527.22A220.2 220.2 0 0 0 536.54 523.95ZM476.41 548.03L480.66 565.94A238.6 238.6 0 0 1 473.63 567.5L469.91 549.47A220.2 220.2 0 0 0 476.41 548.03ZM380.08 547.42L375.88 567.18A238.6 238.6 0 0 1 368.85 565.58L373.64 545.95A218.4 218.4 0 0 0 380.08 547.42ZM258.77 477.64L244.84 489.66A238.6 238.6 0 0 1 240.21 484.13L254.5 472.54A220.2 220.2 0 0 0 258.77 477.64ZM246.7 462.33L231.76 473.07A238.6 238.6 0 0 1 227.64 467.15L242.9 456.87A220.2 220.2 0 0 0 246.7 462.33ZM286.74 165.15L273.9 149.55A238.6 238.6 0 0 1 279.54 145.05L291.89 161.03A218.4 218.4 0 0 0 286.74 165.15Z"/>
</g>
<g id="labs" font-size="3.45" fill="#111">
<text transform="translate(425.69 96.2) rotate(-89.95)" text-anchor="end" dy="1.2">PO-MAG42</text>
<text transform="translate(432.7 96.31) rotate(-88.26)" text-anchor="end" dy="1.2">PO-MAG30</text>
<text transform="translate(439.71 96.63) rotate(-86.57)" text-anchor="end" dy="1.2">PO-MAG146</text>
<text transform="translate(446.7 97.15) rotate(-84.88)" text-anchor="end" dy="1.2">PO-MAG195</text>
<text transform="translate(453.68 97.88) rotate(-83.19)" text-anchor="end" dy="1.2">PO-MAG187</text>
<text transform="translate(460.63 98.81) rotate(-81.5)" text-anchor="end" dy="1.2">PO-MAG29</text>
<text transform="translate(467.55 99.95) rotate(-79.81)" text-anchor="end" dy="1.2">PO-MAG67</text>
<text transform="translate(474.44 101.29) rotate(-78.11)" text-anchor="end" dy="1.2">PO-MAG82</text>
<text transform="translate(481.28 102.84) rotate(-76.42)" text-anchor="end" dy="1.2">PO-MAG46</text>
<text transform="translate(488.07 104.59) rotate(-74.73)" text-anchor="end" dy="1.2">PO-MAG26</text>
<text transform="translate(494.81 106.53) rotate(-73.04)" text-anchor="end" dy="1.2">PO-MAG69</text>
<text transform="translate(501.49 108.68) rotate(-71.35)" text-anchor="end" dy="1.2">PO-MAG95</text>
<text transform="translate(508.1 111.02) rotate(-69.66)" text-anchor="end" dy="1.2">PO-MAG135</text>
<text transform="translate(514.64 113.55) rotate(-67.97)" text-anchor="end" dy="1.2">PO-MAG172</text>
<text transform="translate(521.1 116.28) rotate(-66.27)" text-anchor="end" dy="1.2">PO-MAG93</text>
<text transform="translate(527.48 119.2) rotate(-64.58)" text-anchor="end" dy="1.2">PO-MAG156</text>
<text transform="translate(533.77 122.3) rotate(-62.89)" text-anchor="end" dy="1.2">PO-MAG21</text>
<text transform="translate(539.97 125.59) rotate(-61.2)" text-anchor="end" dy="1.2">PO-MAG77</text>
<text transform="translate(546.06 129.06) rotate(-59.51)" text-anchor="end" dy="1.2">PO-MAG189</text>
<text transform="translate(552.05 132.71) rotate(-57.82)" text-anchor="end" dy="1.2">PO-MAG143</text>
<text transform="translate(557.93 136.53) rotate(-56.13)" text-anchor="end" dy="1.2">PO-MAG184</text>
<text transform="translate(563.7 140.52) rotate(-54.43)" text-anchor="end" dy="1.2">PO-MAG52</text>
<text transform="translate(569.34 144.69) rotate(-52.74)" text-anchor="end" dy="1.2">PO-MAG79</text>
<text transform="translate(574.86 149.02) rotate(-51.05)" text-anchor="end" dy="1.2">PO-MAG199</text>
<text transform="translate(580.25 153.51) rotate(-49.36)" text-anchor="end" dy="1.2">PO-MAG176</text>
<text transform="translate(585.5 158.15) rotate(-47.67)" text-anchor="end" dy="1.2">PO-MAG141</text>
<text transform="translate(590.62 162.95) rotate(-45.98)" text-anchor="end" dy="1.2">PO-MAG139</text>
<text transform="translate(595.59 167.9) rotate(-44.29)" text-anchor="end" dy="1.2">PO-MAG61</text>
<text transform="translate(600.41 172.99) rotate(-42.59)" text-anchor="end" dy="1.2">PO-MAG45</text>
<text transform="translate(605.08 178.23) rotate(-40.9)" text-anchor="end" dy="1.2">PO-MAG112</text>
<text transform="translate(609.6 183.59) rotate(-39.21)" text-anchor="end" dy="1.2">PO-MAG89</text>
<text transform="translate(613.95 189.09) rotate(-37.52)" text-anchor="end" dy="1.2">PO-MAG111</text>
<text transform="translate(618.14 194.72) rotate(-35.83)" text-anchor="end" dy="1.2">PO-MAG65</text>
<text transform="translate(622.16 200.47) rotate(-34.14)" text-anchor="end" dy="1.2">PO-MAG33</text>
<text transform="translate(626.01 206.33) rotate(-32.45)" text-anchor="end" dy="1.2">PO-MAG123</text>
<text transform="translate(629.69 212.3) rotate(-30.75)" text-anchor="end" dy="1.2">PO-MAG64</text>
<text transform="translate(633.18 218.38) rotate(-29.06)" text-anchor="end" dy="1.2">PO-MAG7</text>
<text transform="translate(636.5 224.56) rotate(-27.37)" text-anchor="end" dy="1.2">PO-MAG183</text>
<text transform="translate(639.63 230.84) rotate(-25.68)" text-anchor="end" dy="1.2">PO-MAG71</text>
<text transform="translate(642.58 237.2) rotate(-23.99)" text-anchor="end" dy="1.2">PO-MAG165</text>
<text transform="translate(645.33 243.65) rotate(-22.3)" text-anchor="end" dy="1.2">PO-MAG92</text>
<text transform="translate(647.9 250.18) rotate(-20.61)" text-anchor="end" dy="1.2">PO-MAG31</text>
<text transform="translate(650.27 256.78) rotate(-18.91)" text-anchor="end" dy="1.2">PO-MAG107</text>
<text transform="translate(652.45 263.45) rotate(-17.22)" text-anchor="end" dy="1.2">PO-MAG44</text>
<text transform="translate(654.42 270.18) rotate(-15.53)" text-anchor="end" dy="1.2">PO-MAG194</text>
<text transform="translate(656.2 276.96) rotate(-13.84)" text-anchor="end" dy="1.2">PO-MAG36</text>
<text transform="translate(657.78 283.8) rotate(-12.15)" text-anchor="end" dy="1.2">PO-MAG129</text>
<text transform="translate(659.15 290.68) rotate(-10.46)" text-anchor="end" dy="1.2">PO-MAG192</text>
<text transform="translate(660.32 297.59) rotate(-8.77)" text-anchor="end" dy="1.2">PO-MAG173</text>
<text transform="translate(661.29 304.54) rotate(-7.07)" text-anchor="end" dy="1.2">PO-MAG47</text>
<text transform="translate(662.05 311.51) rotate(-5.38)" text-anchor="end" dy="1.2">PO-MAG204</text>
<text transform="translate(662.61 318.5) rotate(-3.69)" text-anchor="end" dy="1.2">PO-MAG40</text>
<text transform="translate(662.96 325.51) rotate(-2)" text-anchor="end" dy="1.2">PO-MAG125</text>
<text transform="translate(663.1 332.52) rotate(-0.31)" text-anchor="end" dy="1.2">PO-MAG104</text>
<text transform="translate(663.03 339.54) rotate(1.38)" text-anchor="end" dy="1.2">PO-MAG20</text>
<text transform="translate(662.76 346.54) rotate(3.07)" text-anchor="end" dy="1.2">PO-MAG73</text>
<text transform="translate(662.28 353.54) rotate(4.77)" text-anchor="end" dy="1.2">PO-MAG185</text>
<text transform="translate(661.59 360.52) rotate(6.46)" text-anchor="end" dy="1.2">PO-MAG110</text>
<text transform="translate(660.7 367.48) rotate(8.15)" text-anchor="end" dy="1.2">PO-MAG106</text>
<text transform="translate(659.6 374.41) rotate(9.84)" text-anchor="end" dy="1.2">PO-MAG56</text>
<text transform="translate(658.3 381.3) rotate(11.53)" text-anchor="end" dy="1.2">PO-MAG9</text>
<text transform="translate(656.8 388.15) rotate(13.22)" text-anchor="end" dy="1.2">PO-MAG197</text>
<text transform="translate(655.1 394.95) rotate(14.91)" text-anchor="end" dy="1.2">PO-MAG137</text>
<text transform="translate(653.19 401.7) rotate(16.61)" text-anchor="end" dy="1.2">PO-MAG177</text>
<text transform="translate(651.09 408.4) rotate(18.3)" text-anchor="end" dy="1.2">PO-MAG114</text>
<text transform="translate(648.79 415.02) rotate(19.99)" text-anchor="end" dy="1.2">PO-MAG155</text>
<text transform="translate(646.29 421.58) rotate(21.68)" text-anchor="end" dy="1.2">PO-MAG68</text>
<text transform="translate(643.6 428.06) rotate(23.37)" text-anchor="end" dy="1.2">PO-MAG201</text>
<text transform="translate(640.73 434.45) rotate(25.06)" text-anchor="end" dy="1.2">PO-MAG210</text>
<text transform="translate(637.66 440.76) rotate(26.75)" text-anchor="end" dy="1.2">PO-MAG212</text>
<text transform="translate(634.41 446.98) rotate(28.45)" text-anchor="end" dy="1.2">PO-MAG90</text>
<text transform="translate(630.98 453.09) rotate(30.14)" text-anchor="end" dy="1.2">PO-MAG12</text>
<text transform="translate(627.37 459.11) rotate(31.83)" text-anchor="end" dy="1.2">PO-MAG85</text>
<text transform="translate(623.58 465.01) rotate(33.52)" text-anchor="end" dy="1.2">PO-MAG179</text>
<text transform="translate(619.63 470.8) rotate(35.21)" text-anchor="end" dy="1.2">PO-MAG100</text>
<text transform="translate(615.5 476.47) rotate(36.9)" text-anchor="end" dy="1.2">PO-MAG38</text>
<text transform="translate(611.2 482.02) rotate(38.59)" text-anchor="end" dy="1.2">PO-MAG43</text>
<text transform="translate(606.75 487.43) rotate(40.29)" text-anchor="end" dy="1.2">PO-MAG117</text>
<text transform="translate(602.13 492.72) rotate(41.98)" text-anchor="end" dy="1.2">PO-MAG34</text>
<text transform="translate(597.37 497.86) rotate(43.67)" text-anchor="end" dy="1.2">PO-MAG57</text>
<text transform="translate(592.45 502.86) rotate(45.36)" text-anchor="end" dy="1.2">PO-MAG96</text>
<text transform="translate(587.39 507.72) rotate(47.05)" text-anchor="end" dy="1.2">PO-MAG134</text>
<text transform="translate(582.18 512.42) rotate(48.74)" text-anchor="end" dy="1.2">PO-MAG6</text>
<text transform="translate(576.84 516.97) rotate(50.43)" text-anchor="end" dy="1.2">PO-MAG203</text>
<text transform="translate(571.37 521.35) rotate(52.13)" text-anchor="end" dy="1.2">PO-MAG191</text>
<text transform="translate(565.77 525.58) rotate(53.82)" text-anchor="end" dy="1.2">PO-MAG101</text>
<text transform="translate(560.05 529.63) rotate(55.51)" text-anchor="end" dy="1.2">PO-MAG198</text>
<text transform="translate(554.21 533.52) rotate(57.2)" text-anchor="end" dy="1.2">PO-MAG126</text>
<text transform="translate(548.26 537.23) rotate(58.89)" text-anchor="end" dy="1.2">PO-MAG196</text>
<text transform="translate(542.2 540.77) rotate(60.58)" text-anchor="end" dy="1.2">PO-MAG27</text>
<text transform="translate(536.04 544.12) rotate(62.27)" text-anchor="end" dy="1.2">PO-MAG3</text>
<text transform="translate(529.78 547.29) rotate(63.97)" text-anchor="end" dy="1.2">PO-MAG39</text>
<text transform="translate(523.44 550.28) rotate(65.66)" text-anchor="end" dy="1.2">PO-MAG166</text>
<text transform="translate(517 553.07) rotate(67.35)" text-anchor="end" dy="1.2">PO-MAG35</text>
<text transform="translate(510.49 555.68) rotate(69.04)" text-anchor="end" dy="1.2">PO-MAG159</text>
<text transform="translate(503.9 558.09) rotate(70.73)" text-anchor="end" dy="1.2">PO-MAG147</text>
<text transform="translate(497.25 560.31) rotate(72.42)" text-anchor="end" dy="1.2">PO-MAG182</text>
<text transform="translate(490.53 562.33) rotate(74.11)" text-anchor="end" dy="1.2">PO-MAG169</text>
<text transform="translate(483.76 564.15) rotate(75.81)" text-anchor="end" dy="1.2">PO-MAG15</text>
<text transform="translate(476.93 565.77) rotate(77.5)" text-anchor="end" dy="1.2">PO-MAG50</text>
<text transform="translate(470.07 567.18) rotate(79.19)" text-anchor="end" dy="1.2">PO-MAG83</text>
<text transform="translate(463.16 568.4) rotate(80.88)" text-anchor="end" dy="1.2">PO-MAG140</text>
<text transform="translate(456.22 569.41) rotate(82.57)" text-anchor="end" dy="1.2">PO-MAG181</text>
<text transform="translate(449.25 570.21) rotate(84.26)" text-anchor="end" dy="1.2">PO-MAG150</text>
<text transform="translate(442.26 570.81) rotate(85.96)" text-anchor="end" dy="1.2">PO-MAG94</text>
<text transform="translate(435.26 571.2) rotate(87.65)" text-anchor="end" dy="1.2">PO-MAG109</text>
<text transform="translate(428.25 571.38) rotate(89.34)" text-anchor="end" dy="1.2">PO-MAG157</text>
<text transform="translate(421.23 571.36) rotate(271.03)" text-anchor="start" dy="1.2">PO-MAG58</text>
<text transform="translate(414.22 571.13) rotate(272.72)" text-anchor="start" dy="1.2">PO-MAG213</text>
<text transform="translate(407.22 570.7) rotate(274.41)" text-anchor="start" dy="1.2">PO-MAG161</text>
<text transform="translate(400.24 570.05) rotate(276.1)" text-anchor="start" dy="1.2">PO-MAG88</text>
<text transform="translate(393.27 569.2) rotate(277.8)" text-anchor="start" dy="1.2">PO-MAG130</text>
<text transform="translate(386.34 568.15) rotate(279.49)" text-anchor="start" dy="1.2">PO-MAG63</text>
<text transform="translate(379.44 566.89) rotate(281.18)" text-anchor="start" dy="1.2">PO-MAG148</text>
<text transform="translate(372.58 565.43) rotate(282.87)" text-anchor="start" dy="1.2">PO-MAG188</text>
<text transform="translate(365.77 563.77) rotate(284.56)" text-anchor="start" dy="1.2">PO-MAG171</text>
<text transform="translate(359 561.91) rotate(286.25)" text-anchor="start" dy="1.2">PO-MAG127</text>
<text transform="translate(352.3 559.84) rotate(287.94)" text-anchor="start" dy="1.2">PO-MAG13</text>
<text transform="translate(345.66 557.58) rotate(289.64)" text-anchor="start" dy="1.2">PO-MAG91</text>
<text transform="translate(339.09 555.13) rotate(291.33)" text-anchor="start" dy="1.2">PO-MAG32</text>
<text transform="translate(332.59 552.48) rotate(293.02)" text-anchor="start" dy="1.2">PO-MAG214</text>
<text transform="translate(326.18 549.65) rotate(294.71)" text-anchor="start" dy="1.2">PO-MAG180</text>
<text transform="translate(319.85 546.62) rotate(296.4)" text-anchor="start" dy="1.2">PO-MAG174</text>
<text transform="translate(313.62 543.41) rotate(298.09)" text-anchor="start" dy="1.2">PO-MAG98</text>
<text transform="translate(307.48 540.01) rotate(299.78)" text-anchor="start" dy="1.2">PO-MAG53</text>
<text transform="translate(301.44 536.44) rotate(301.48)" text-anchor="start" dy="1.2">PO-MAG124</text>
<text transform="translate(295.51 532.69) rotate(303.17)" text-anchor="start" dy="1.2">PO-MAG186</text>
<text transform="translate(289.7 528.77) rotate(304.86)" text-anchor="start" dy="1.2">PO-MAG86</text>
<text transform="translate(284.01 524.67) rotate(306.55)" text-anchor="start" dy="1.2">PO-MAG80</text>
<text transform="translate(278.43 520.41) rotate(308.24)" text-anchor="start" dy="1.2">PO-MAG23</text>
<text transform="translate(272.99 515.99) rotate(309.93)" text-anchor="start" dy="1.2">PO-MAG87</text>
<text transform="translate(267.68 511.41) rotate(311.62)" text-anchor="start" dy="1.2">PO-MAG70</text>
<text transform="translate(262.5 506.68) rotate(313.32)" text-anchor="start" dy="1.2">PO-MAG170</text>
<text transform="translate(257.47 501.79) rotate(315.01)" text-anchor="start" dy="1.2">PO-MAG19</text>
<text transform="translate(252.59 496.76) rotate(316.7)" text-anchor="start" dy="1.2">PO-MAG108</text>
<text transform="translate(247.85 491.58) rotate(318.39)" text-anchor="start" dy="1.2">PO-MAG190</text>
<text transform="translate(243.27 486.27) rotate(320.08)" text-anchor="start" dy="1.2">PO-MAG97</text>
<text transform="translate(238.85 480.82) rotate(321.77)" text-anchor="start" dy="1.2">PO-MAG121</text>
<text transform="translate(234.59 475.25) rotate(323.46)" text-anchor="start" dy="1.2">PO-MAG14</text>
<text transform="translate(230.5 469.55) rotate(325.16)" text-anchor="start" dy="1.2">PO-MAG54</text>
<text transform="translate(226.58 463.74) rotate(326.85)" text-anchor="start" dy="1.2">PO-MAG55</text>
<text transform="translate(222.83 457.81) rotate(328.54)" text-anchor="start" dy="1.2">PO-MAG1</text>
<text transform="translate(219.26 451.77) rotate(330.23)" text-anchor="start" dy="1.2">PO-MAG5</text>
<text transform="translate(215.87 445.64) rotate(331.92)" text-anchor="start" dy="1.2">PO-MAG209</text>
<text transform="translate(212.66 439.4) rotate(333.61)" text-anchor="start" dy="1.2">PO-MAG99</text>
<text transform="translate(209.63 433.07) rotate(335.3)" text-anchor="start" dy="1.2">PO-MAG75</text>
<text transform="translate(206.8 426.66) rotate(337)" text-anchor="start" dy="1.2">PO-MAG149</text>
<text transform="translate(204.15 420.16) rotate(338.69)" text-anchor="start" dy="1.2">PO-MAG103</text>
<text transform="translate(201.7 413.59) rotate(340.38)" text-anchor="start" dy="1.2">PO-MAG28</text>
<text transform="translate(199.44 406.95) rotate(342.07)" text-anchor="start" dy="1.2">PO-MAG145</text>
<text transform="translate(197.38 400.24) rotate(343.76)" text-anchor="start" dy="1.2">PO-MAG18</text>
<text transform="translate(195.52 393.48) rotate(345.45)" text-anchor="start" dy="1.2">PO-MAG175</text>
<text transform="translate(193.86 386.67) rotate(347.14)" text-anchor="start" dy="1.2">PO-MAG74</text>
<text transform="translate(192.4 379.81) rotate(348.84)" text-anchor="start" dy="1.2">PO-MAG205</text>
<text transform="translate(191.14 372.91) rotate(350.53)" text-anchor="start" dy="1.2">PO-MAG59</text>
<text transform="translate(190.09 365.97) rotate(352.22)" text-anchor="start" dy="1.2">PO-MAG81</text>
<text transform="translate(189.24 359.01) rotate(353.91)" text-anchor="start" dy="1.2">PO-MAG66</text>
<text transform="translate(188.6 352.02) rotate(355.6)" text-anchor="start" dy="1.2">PO-MAG193</text>
<text transform="translate(188.17 345.02) rotate(357.29)" text-anchor="start" dy="1.2">PO-MAG142</text>
<text transform="translate(187.94 338.01) rotate(358.98)" text-anchor="start" dy="1.2">PO-MAG105</text>
<text transform="translate(187.92 331) rotate(360.68)" text-anchor="start" dy="1.2">PO-MAG72</text>
<text transform="translate(188.1 323.99) rotate(362.37)" text-anchor="start" dy="1.2">PO-MAG118</text>
<text transform="translate(188.5 316.98) rotate(364.06)" text-anchor="start" dy="1.2">PO-MAG22</text>
<text transform="translate(189.1 310) rotate(365.75)" text-anchor="start" dy="1.2">PO-MAG2</text>
<text transform="translate(189.9 303.03) rotate(367.44)" text-anchor="start" dy="1.2">PO-MAG128</text>
<text transform="translate(190.91 296.09) rotate(369.13)" text-anchor="start" dy="1.2">PO-MAG76</text>
<text transform="translate(192.13 289.18) rotate(370.82)" text-anchor="start" dy="1.2">PO-MAG164</text>
<text transform="translate(193.55 282.31) rotate(372.52)" text-anchor="start" dy="1.2">PO-MAG60</text>
<text transform="translate(195.17 275.49) rotate(374.21)" text-anchor="start" dy="1.2">PO-MAG133</text>
<text transform="translate(196.99 268.71) rotate(375.9)" text-anchor="start" dy="1.2">PO-MAG51</text>
<text transform="translate(199.01 262) rotate(377.59)" text-anchor="start" dy="1.2">PO-MAG152</text>
<text transform="translate(201.23 255.34) rotate(379.28)" text-anchor="start" dy="1.2">PO-MAG113</text>
<text transform="translate(203.64 248.76) rotate(380.97)" text-anchor="start" dy="1.2">PO-MAG84</text>
<text transform="translate(206.25 242.25) rotate(382.66)" text-anchor="start" dy="1.2">PO-MAG119</text>
<text transform="translate(209.05 235.81) rotate(384.36)" text-anchor="start" dy="1.2">PO-MAG8</text>
<text transform="translate(212.03 229.47) rotate(386.05)" text-anchor="start" dy="1.2">PO-MAG154</text>
<text transform="translate(215.2 223.21) rotate(387.74)" text-anchor="start" dy="1.2">PO-MAG62</text>
<text transform="translate(218.56 217.05) rotate(389.43)" text-anchor="start" dy="1.2">PO-MAG208</text>
<text transform="translate(222.1 211) rotate(391.12)" text-anchor="start" dy="1.2">PO-MAG10</text>
<text transform="translate(225.81 205.05) rotate(392.81)" text-anchor="start" dy="1.2">PO-MAG16</text>
<text transform="translate(229.7 199.21) rotate(394.5)" text-anchor="start" dy="1.2">PO-MAG17</text>
<text transform="translate(233.76 193.49) rotate(396.2)" text-anchor="start" dy="1.2">PO-MAG136</text>
<text transform="translate(237.98 187.89) rotate(397.89)" text-anchor="start" dy="1.2">PO-MAG4</text>
<text transform="translate(242.37 182.42) rotate(399.58)" text-anchor="start" dy="1.2">PO-MAG160</text>
<text transform="translate(246.92 177.08) rotate(401.27)" text-anchor="start" dy="1.2">PO-MAG41</text>
<text transform="translate(251.62 171.87) rotate(402.96)" text-anchor="start" dy="1.2">PO-MAG167</text>
<text transform="translate(256.48 166.81) rotate(404.65)" text-anchor="start" dy="1.2">PO-MAG202</text>
<text transform="translate(261.48 161.9) rotate(406.34)" text-anchor="start" dy="1.2">PO-MAG168</text>
<text transform="translate(266.62 157.13) rotate(408.04)" text-anchor="start" dy="1.2">PO-MAG211</text>
<text transform="translate(271.91 152.52) rotate(409.73)" text-anchor="start" dy="1.2">PO-MAG102</text>
<text transform="translate(277.33 148.06) rotate(411.42)" text-anchor="start" dy="1.2">PO-MAG153</text>
<text transform="translate(282.87 143.77) rotate(413.11)" text-anchor="start" dy="1.2">PO-MAG11</text>
<text transform="translate(288.54 139.64) rotate(414.8)" text-anchor="start" dy="1.2">PO-MAG163</text>
<text transform="translate(294.33 135.69) rotate(416.49)" text-anchor="start" dy="1.2">PO-MAG178</text>
<text transform="translate(300.24 131.9) rotate(418.18)" text-anchor="start" dy="1.2">PO-MAG138</text>
<text transform="translate(306.25 128.29) rotate(419.88)" text-anchor="start" dy="1.2">PO-MAG24</text>
<text transform="translate(312.37 124.86) rotate(421.57)" text-anchor="start" dy="1.2">PO-MAG37</text>
<text transform="translate(318.59 121.61) rotate(423.26)" text-anchor="start" dy="1.2">PO-MAG78</text>
<text transform="translate(324.9 118.55) rotate(424.95)" text-anchor="start" dy="1.2">PO-MAG115</text>
<text transform="translate(331.3 115.67) rotate(426.64)" text-anchor="start" dy="1.2">PO-MAG25</text>
<text transform="translate(337.77 112.99) rotate(428.33)" text-anchor="start" dy="1.2">PO-MAG207</text>
<text transform="translate(344.33 110.49) rotate(430.02)" text-anchor="start" dy="1.2">PO-MAG158</text>
</g>
<path fill="none" stroke="#cecece" stroke-width="0.45" stroke-dasharray="0.8 1.9" d="M425.53 291.21L425.68 114.1M426.97 285.3L432.16 114.2M428.37 285.82L438.53 116.29M429.45 289.76L444.95 116.77M431 287.76L451.34 117.44M432.33 288.09L457.98 116.51M434 286.51L464.38 117.57M435.67 285.49L470.75 118.81M435.84 291L477.08 120.24M437.02 291.62L483.36 121.86M440.08 286.01L489.59 123.66M440.38 289.72L495.76 125.64M442.51 287.91L501.25 129.49M441.5 294.28L507.25 131.82M443.99 291.72L513.9 132.67M446.08 290.49L519.02 136.99M439.85 305.76L525.61 138.24M449.25 290.6L531.34 141.28M450.23 291.81L536.06 146.03M439.08 312.22L541.56 149.38M448.51 299.52L546.95 152.89M451.78 297.04L553.29 155.09M443.36 310.32L558.51 158.94M452.83 299.99L562.48 164.34M439.5 317.49L567.42 168.45M454.7 301.75L572.24 172.72M444.61 314.03L576.93 177.12M455.08 304.95L582.78 180.4M442.8 317.9L587.24 185.11M458.05 305.6L590.19 191.12M481.47 288.13L595.73 194.91M482.75 289.84L598.33 201.09M479.69 294.68L603.63 205.2M480.96 296.2L607.35 210.51M485.85 295.43L609.39 216.9M482.15 300.09L614.3 221.46M482.77 301.97L619.11 226.2M481.76 304.68L619.01 233.62M484.2 305.57L623.5 238.6M485.01 307.32L624.58 245.21M485.63 309.14L628.77 250.44M489.57 309.71L631.14 256.48M491.8 311.08L631.63 263.17M492.23 313.12L635.35 268.75M494.71 314.56L635.44 275.45M496.84 316.23L638.82 281.25M497.06 318.4L638.52 287.94M495.09 320.96L639.78 294.25M491.88 323.56L640.86 300.59M491.11 325.66L643.53 306.74M489.93 327.73L642.44 313.36M490.03 329.64L644.74 319.66M492.75 331.45L643.27 326.2M491.91 333.44L643.4 332.63M492.26 335.41L645.14 339.1M478.42 336.64L644.88 345.58M476.82 338.08L642.65 351.9M495.55 341.73L642.02 358.31M495.29 343.79L641.2 364.69M493.98 345.68L641.97 371.35M494.58 347.89L642.53 378.08M494.62 350.04L637.62 383.64M495.07 352.33L636.06 389.88M494.02 354.23L634.31 396.07M508.58 361.27L632.38 402.21M503.03 362L630.27 408.29M499.38 363.17L629.66 414.96M525.56 377.04L625.52 420.24M587.75 409.68L622.88 426.11M587.01 415.23L620.07 431.89M583.27 419.27L618.67 438.45M580.22 423.62L615.5 444.11M579.21 429.21L612.16 449.67M578.91 435.42L607.16 454.13M583.43 445.26L603.53 459.44M579.91 449.74L601.18 465.72M573.87 452.22L597.21 470.85M571.75 457.77L591.72 474.7M566.87 460.99L588.83 480.74M562.6 464.67L584.42 485.5M558.4 468.38L579.87 490.13M554.81 472.72L573.96 493.3M553.47 479.69L571.56 500.32M548.73 482.95L564.29 501.78M544.2 486.42L559.27 505.8M539.62 489.82L554.14 509.68M532.9 490.12L548.89 513.4M534.03 502.22L543.54 516.96M530 506.98L538.08 520.36M525.15 510.53L533.41 525.17M520.23 514.05L528.55 529.87M514.94 516.9L521.93 531.21M507.53 515.13L515.32 532.33M503.34 520.34L510.11 536.55M497.95 522.93L503.44 537.28M492 524.05L497.4 539.49M486.75 527.15L491.3 541.53M481.57 530.82L485.14 543.38M475.22 530.4L479.37 546.79M470.55 536.97L473.06 548.29M464.5 538.05L466.71 549.6M458.19 537.48L460.04 548.95M452.01 537.13L453.67 549.87M446.39 541.71L447.28 550.61M440.11 540.47L441 552.95M434.09 542.92L434.45 551.52M427.92 543.12L428.02 551.69M421.77 541.32L421.55 553.46M415.66 540.8L415.16 551.45M409.45 541.78L408.74 551.05M403.4 540.46L402.14 552.25M397.5 538.36L395.95 549.69M391.29 538.54L389.29 550.5M384.62 540.68L383.26 547.57M379.5 535.12L376.97 546.23M373.51 533.94L370.72 544.7M366.59 535.9L364.52 542.99M361.21 532.33L357.81 542.81M354.78 532.02L351.67 540.72M349.01 529.72L345.6 538.46M343.46 526.9L340.3 534.35M336.05 528.19L334.41 531.75M332.38 521.38L328.61 528.97M326.15 519.92L322.04 527.62M321.2 516.03L316.37 524.48M314.39 515.29L311.73 519.64M310.12 510.35L306.29 516.2M304.54 507.46L299.93 514.08M297.92 505.9L294.66 510.29M294.33 500.25L289.51 506.36M288.39 497.59L284.48 502.27M282.07 495.21L279.57 498.03M359.3 404.01L276.02 492.34M355.84 403.44L270.13 489.13M346.54 408.21L266.92 483.25M344.75 405.52L262.58 478.5M351.11 396.04L257 474.78M348.93 394.11L254.33 468.63M347.02 391.95L248.98 464.59M344.85 389.95L245.19 459.33M343.91 387.1L241.56 453.95M341.75 385.05L236.56 449.41M343.37 380.78L233.23 443.78M349.03 374.6L233.25 436.36M347.04 372.73L228.69 431.44M346.42 370.17L225.89 425.59M345.47 367.78L224.93 418.96M344.73 365.31L222.5 413M340.58 364.07L218.56 407.58M339.7 361.56L218.18 400.88M337.04 359.57L214.57 395.24M331.01 358.32L214.59 388.53M331.17 355.33L211.31 382.68M328.12 353.02L211.72 375.99M312.7 352.62L208.8 369.96M309.9 349.6L207.82 363.55M310.33 346.09L207.04 357.11M311.55 342.57L208.24 350.51M305.1 339.49L207.84 344.09M307.33 335.9L207.63 337.66M305.34 332.38L205.82 331.21M307.25 328.91L207.79 324.8M307.34 325.42L206.35 318.25M305.98 321.77L205.11 311.61M304.39 317.98L209.44 305.58M308.38 314.97L208.58 298.93M308.5 311.43L211.48 292.88M307.24 307.55L211.02 286.19M306.52 303.68L214.26 280.32M309.24 300.69L214.2 273.62M311.13 297.54L217.79 267.95M305.74 291.9L219.82 261.85M311.36 290.05L220.35 255.16M308.96 285.14L224.43 249.84M313.04 282.89L223.71 242.45M315.24 279.91L229.73 238.12M317 276.74L231.05 231.54M317.9 273.1L235.72 226.73M317.57 268.64L237.42 220.25M322.21 267.2L240.85 214.75M322.57 263.04L244.45 209.35M324.47 259.87L249.65 205.12M327.75 257.74L250.69 197.78M329.36 254.32L257.55 194.97M333.57 253.12L260.37 188.88M336 250.45L266.04 185.3M333.71 243.12L270.49 180.66M334.79 238.73L275.08 176.15M338.48 237.03L279.8 171.78M341.74 234.94L284.64 167.55M343.85 231.45L289.61 163.46M347.3 229.61L293.62 158.09M350.86 227.98L299.9 155.74M352.65 223.76L305.21 152.11M356.18 222.06L310.63 148.64M360.65 222.03L315.24 143.77M363.19 218.71L320.89 140.6M366.72 217.14L326.64 137.6M369.45 213.88L333.24 136.4M373.3 212.94L338.39 132.11M377.71 213.51L345.05 131.3M380.1 208.89L351.06 129.01"/>
<g id="tree" fill="none" stroke-width="1.25" stroke-linecap="square" stroke-linejoin="miter">
<path stroke="#f0e442" d="M392 333.25L368.51 332.86M369.4 343.91A57 57 0 0 1 369.77 321.85M369.4 343.91L348.05 347.75M348.65 350.74A78.7 78.7 0 0 1 347.56 344.74M348.65 350.74L339.56 352.75M340 354.64A88 88 0 0 1 339.17 350.84M340 354.64L336.34 355.54M336.67 356.85A91.77 91.77 0 0 1 336.03 354.22M336.67 356.85L332.46 357.94M336.03 354.22L332.63 354.99M339.17 350.84L329.6 352.73M347.56 344.74L334.39 346.59M334.75 348.94A92 92 0 0 1 334.09 344.24M334.75 348.94L314.18 352.38M334.09 344.24L324.57 345.32M324.85 347.55A101.58 101.58 0 0 1 324.34 343.09M324.85 347.55L311.38 349.4M324.34 343.09L317.69 343.7M317.85 345.29A108.26 108.26 0 0 1 317.56 342.1M317.85 345.29L311.82 345.93M317.56 342.1L313.04 342.45M369.77 321.85L348.74 317.34M347.03 331.72A78.5 78.5 0 0 1 353.07 303.53M347.03 331.72L340.53 331.54M340.53 335.93A85 85 0 0 1 340.76 327.16M340.53 335.93L324.66 336.33M324.74 338.56A100.87 100.87 0 0 1 324.63 334.1M324.74 338.56L306.6 339.42M324.63 334.1L313.81 334.13M313.83 335.78A111.69 111.69 0 0 1 313.82 332.48M313.83 335.78L308.83 335.87M313.82 332.48L306.84 332.4M340.76 327.16L323.27 325.79M323.12 328.05A102.54 102.54 0 0 1 323.47 323.53M323.12 328.05L313.8 327.53M313.72 329.18A111.87 111.87 0 0 1 313.91 325.88M313.72 329.18L308.75 328.97M313.91 325.88L308.84 325.52M323.47 323.53L307.47 321.92M353.07 303.53L350.4 302.41M345.94 316.6A81.4 81.4 0 0 1 357.36 289.27M345.94 316.6L334.99 314.23M334.13 318.77A92.6 92.6 0 0 1 336.08 309.75M334.13 318.77L316.47 315.86M315.93 319.49A110.5 110.5 0 0 1 317.12 312.25M315.93 319.49L305.88 318.18M317.12 312.25L313.78 311.58M313.31 314.06A113.91 113.91 0 0 1 314.3 309.12M313.31 314.06L312.01 313.83M311.73 315.51A115.24 115.24 0 0 1 312.32 312.16M311.73 315.51L309.87 315.21M312.32 312.16L309.98 311.71M314.3 309.12L308.71 307.87M336.08 309.75L315.36 304.18M314.93 305.81A114.06 114.06 0 0 1 315.8 302.56M314.93 305.81L307.97 304.05M315.8 302.56L310.68 301.1M357.36 289.27L353.51 286.75M345.43 302.43A86 86 0 0 1 364.62 273.06M345.43 302.43L341.98 301.08M339.99 306.69A89.7 89.7 0 0 1 344.34 295.61M339.99 306.69L312.56 297.99M344.34 295.61L329.07 288.42M325.84 296.02A106.58 106.58 0 0 1 332.87 281.09M325.84 296.02L318.02 293.06M317.01 295.85A114.94 114.94 0 0 1 319.11 290.29M317.01 295.85L307.15 292.4M319.11 290.29L316.34 289.16M315.38 291.59A117.93 117.93 0 0 1 317.36 286.76M315.38 291.59L312.77 290.59M317.36 286.76L315.63 286M314.93 287.63A119.82 119.82 0 0 1 316.34 284.39M314.93 287.63L310.34 285.71M316.34 284.39L314.4 283.51M332.87 281.09L328.75 278.75M326.6 282.72A111.32 111.32 0 0 1 331.07 274.87M326.6 282.72L321.76 280.22M320.6 282.53A116.76 116.76 0 0 1 322.97 277.94M320.6 282.53L316.59 280.57M322.97 277.94L321.27 277.01M320.44 278.55A118.7 118.7 0 0 1 322.12 275.48M320.44 278.55L318.33 277.44M322.12 275.48L319.21 273.83M331.07 274.87L324.6 270.83M323.68 272.33A118.94 118.94 0 0 1 325.54 269.35M323.68 272.33L318.85 269.41M325.54 269.35L323.47 268.01M364.62 273.06L361.51 269.95M353.95 278.55A90.4 90.4 0 0 1 370.09 262.37M353.95 278.55L351.5 276.65M349.64 279.14A93.5 93.5 0 0 1 353.43 274.23M349.64 279.14L333.19 267.29M331.74 269.35A113.77 113.77 0 0 1 334.69 265.26M331.74 269.35L323.8 263.89M334.69 265.26L329.49 261.34M328.43 262.76A120.29 120.29 0 0 1 330.57 259.93M328.43 262.76L325.68 260.75M330.57 259.93L328.93 258.66M353.43 274.23L330.51 255.28M370.09 262.37L367.39 258.9M358.43 266.8A94.8 94.8 0 0 1 377.28 252.18M358.43 266.8L349.09 257.47M345.39 261.37A108 108 0 0 1 352.99 253.76M345.39 261.37L339.61 256.15M338.47 257.42A115.79 115.79 0 0 1 340.76 254.89M338.47 257.42L334.69 254.11M340.76 254.89L337.1 251.48M352.99 253.76L346.51 246.61M343.65 249.28A117.66 117.66 0 0 1 349.44 244.03M343.65 249.28L340.08 245.59M338.15 247.5A122.79 122.79 0 0 1 342.05 243.72M338.15 247.5L334.78 244.17M342.05 243.72L339.82 241.31M338.47 242.58A126.08 126.08 0 0 1 341.2 240.05M338.47 242.58L335.83 239.82M341.2 240.05L339.48 238.15M349.44 244.03L342.71 236.09M377.28 252.18L370.57 240.81M363.57 245.32A108 108 0 0 1 377.88 236.86M363.57 245.32L356.51 235.23M353.99 237.04A120.32 120.32 0 0 1 359.08 233.48M353.99 237.04L351.73 233.98M349.53 235.64A124.12 124.12 0 0 1 353.95 232.37M349.53 235.64L348.05 233.72M346.58 234.87A126.55 126.55 0 0 1 349.53 232.58M346.58 234.87L344.79 232.62M349.53 232.58L348.2 230.81M353.95 232.37L351.72 229.2M359.08 233.48L353.47 225.01M377.88 236.86L373.82 228.59M366.49 232.53A117.21 117.21 0 0 1 381.42 225.19M366.49 232.53L363.99 228.25M361.09 229.99A122.17 122.17 0 0 1 366.94 226.58M361.09 229.99L356.97 223.34M366.94 226.58L365.94 224.76M363.14 226.33A124.25 124.25 0 0 1 368.78 223.26M363.14 226.33L361.4 223.33M368.78 223.26L367.69 221.14M365.21 222.45A126.62 126.62 0 0 1 370.2 219.89M365.21 222.45L363.9 220.03M370.2 219.89L369.82 219.11M368.13 219.94A127.49 127.49 0 0 1 371.52 218.3M368.13 219.94L367.4 218.48M371.52 218.3L370.09 215.23M381.42 225.19L379.03 219.31M376.51 220.37A123.56 123.56 0 0 1 381.58 218.31M376.51 220.37L373.9 214.32M381.58 218.31L380.71 216.03M378.98 216.7A126 126 0 0 1 382.46 215.38M378.98 216.7L378.26 214.9M382.46 215.38L380.61 210.3"/>
<path stroke="#0072b2" d="M394.36 346.15L372.51 354.81M374.07 358.38A57 57 0 0 1 371.2 351.15M374.07 358.38L368.66 360.96M369.48 362.63A63 63 0 0 1 367.88 359.27M369.48 362.63L356.39 369.37M356.93 370.38A77.72 77.72 0 0 1 355.88 368.34M356.93 370.38L350.35 373.89M355.88 368.34L348.38 372.06M367.88 359.27L354.39 365.24M354.86 366.29A77.75 77.75 0 0 1 353.93 364.19M354.86 366.29L347.78 369.54M353.93 364.19L346.85 367.19M371.2 351.15L366.44 352.67M366.95 354.19A62 62 0 0 1 365.97 351.14M366.95 354.19L355.15 358.3M355.71 359.85A74.49 74.49 0 0 1 354.63 356.73M355.71 359.85L349.79 362.06M350.21 363.17A80.81 80.81 0 0 1 349.38 360.94M350.21 363.17L346.13 364.77M349.38 360.94L342 363.57M354.63 356.73L341.13 361.1M365.97 351.14L338.48 359.15"/>
<path stroke="#e69f00" d="M405.79 352.25L396.3 361.14M398.06 362.9A40 40 0 0 1 394.66 359.27M398.06 362.9L360.33 402.92M394.66 359.27L390.03 363.09M392.26 365.59A46 46 0 0 1 387.99 360.43M392.26 365.59L387.92 369.74M388.73 370.57A52 52 0 0 1 387.13 368.9M388.73 370.57L356.9 402.38M387.13 368.9L348.77 404M349.81 405.13A104 104 0 0 1 347.74 402.86M349.81 405.13L347.63 407.19M347.74 402.86L345.87 404.52M387.99 360.43L364.35 377.22M366.24 379.77A75 75 0 0 1 362.56 374.58M366.24 379.77L360.71 384.06M361.84 385.49A82 82 0 0 1 359.61 382.62M361.84 385.49L353.53 392.23M354.4 393.29A92.71 92.71 0 0 1 352.67 391.17M354.4 393.29L352.26 395.08M352.67 391.17L350.11 393.18M359.61 382.62L348.22 391.06M362.56 374.58L358.36 377.3M359.84 379.51A80 80 0 0 1 356.95 375.05M359.84 379.51L346.08 389.09M356.95 375.05L352.46 377.75M353.45 379.36A85.24 85.24 0 0 1 351.51 376.12M353.45 379.36L348.2 382.68M348.93 383.82A91.46 91.46 0 0 1 347.48 381.54M348.93 383.82L345.16 386.28M347.48 381.54L343.03 384.27M351.51 376.12L344.67 380.03"/>
<path stroke="#cc79a7" d="M454.02 351.76L500.81 381.22M507.2 369.11A89 89 0 0 1 492.65 392.21M507.2 369.11L524.18 376.45M492.65 392.21L538.67 432.25M557.78 404.52A150 150 0 0 1 513.86 455.02M557.78 404.52L571.89 412.06M574.82 406.33A166 166 0 0 1 568.75 417.67M574.82 406.33L580.21 408.95M581.3 406.66A172 172 0 0 1 579.09 411.23M581.3 406.66L586.39 409.04M579.09 411.23L585.67 414.55M568.75 417.67L573.07 420.2M575.85 415.25A171 171 0 0 1 570.12 425.05M575.85 415.25L581.95 418.55M570.12 425.05L572.22 426.38M574.23 423.11A173.48 173.48 0 0 1 570.13 429.6M574.23 423.11L575.74 424.01M577.06 421.79A175.24 175.24 0 0 1 574.39 426.22M577.06 421.79L578.92 422.87M574.39 426.22L577.93 428.42M570.13 429.6L577.65 434.59M513.86 455.02L514.45 455.82M534.82 437.96A151 151 0 0 1 491.21 469.75M534.82 437.96L543.51 446.24M554.38 433.59A163 163 0 0 1 531.4 457.72M554.38 433.59L559.92 437.87M562.93 433.86A170 170 0 0 1 556.79 441.8M562.93 433.86L576.44 443.69M578.04 441.46A186.71 186.71 0 0 1 574.8 445.91M578.04 441.46L582.21 444.39M574.8 445.91L578.71 448.84M556.79 441.8L566.65 449.91M568.35 447.81A182.77 182.77 0 0 1 564.92 451.98M568.35 447.81L572.7 451.28M564.92 451.98L570.6 456.8M531.4 457.72L533.02 459.62M539.15 454.11A165.5 165.5 0 0 1 526.62 464.81M539.15 454.11L550.48 466.1M555.28 461.4A182 182 0 0 1 545.52 470.62M555.28 461.4L556.77 462.86M560.52 458.93A184.09 184.09 0 0 1 552.9 466.68M560.52 458.93L561.69 460.02M563.54 457.99A185.69 185.69 0 0 1 559.81 462.02M563.54 457.99L565.75 459.98M559.81 462.02L561.51 463.64M552.9 466.68L554.04 467.87M556.01 465.96A185.74 185.74 0 0 1 552.05 469.75M556.01 465.96L557.34 467.31M552.05 469.75L553.79 471.62M545.52 470.62L552.48 478.56M526.62 464.81L535.48 476.29M540.15 472.56A180 180 0 0 1 530.69 479.87M540.15 472.56L547.78 481.79M530.69 479.87L533.27 483.44M536.55 481.02A184.41 184.41 0 0 1 529.93 485.79M536.55 481.02L539.5 484.92M541.71 483.22A189.3 189.3 0 0 1 537.25 486.59M541.71 483.22L543.27 485.23M537.25 486.59L538.73 488.61M529.93 485.79L532.05 488.89M491.21 469.75L494.25 476.06M508.13 468.47A158 158 0 0 1 479.69 482.22M508.13 468.47L519.63 487.22M523.01 485.1A180 180 0 0 1 516.21 489.27M523.01 485.1L533.22 500.96M516.21 489.27L523.1 501.07M525.56 499.61A193.66 193.66 0 0 1 520.62 502.49M525.56 499.61L529.22 505.69M520.62 502.49L524.41 509.23M479.69 482.22L480.38 484.09M496.78 477.04A160 160 0 0 1 463.29 489.27M496.78 477.04L508.37 500.32M512.03 498.45A186 186 0 0 1 504.66 502.11M512.03 498.45L519.54 512.72M504.66 502.11L507.46 508.07M510.02 506.84A192.58 192.58 0 0 1 504.88 509.26M510.02 506.84L514.28 515.56M504.88 509.26L506.92 513.76M463.29 489.27L465.18 497.05M485.02 490.9A168 168 0 0 1 444.73 500.7M485.02 490.9L492.45 510.54M498.29 508.22A189 189 0 0 1 486.55 512.67M498.29 508.22L502.77 518.96M486.55 512.67L488.84 519.39M492.93 517.94A196.1 196.1 0 0 1 484.72 520.74M492.93 517.94L493.54 519.6M496.28 518.57A197.86 197.86 0 0 1 490.79 520.58M496.28 518.57L497.41 521.53M490.79 520.58L491.51 522.63M484.72 520.74L486.29 525.72M444.73 500.7L445.42 506.66M468.79 502.33A174 174 0 0 1 421.68 507.76M468.79 502.33L473.51 520.73M478.33 519.43A193 193 0 0 1 468.67 521.91M478.33 519.43L481.16 529.38M468.67 521.91L469.45 525.32M473.68 524.3A196.5 196.5 0 0 1 465.2 526.24M473.68 524.3L474.86 528.94M465.2 526.24L466.57 532.86M469.5 532.23A203.25 203.25 0 0 1 463.62 533.45M469.5 532.23L470.23 535.51M463.62 533.45L464.22 536.58M421.68 507.76L421.57 512.76M442.73 511.97A179 179 0 0 1 400.46 511.04M442.73 511.97L444.18 526.9M452 525.98A194 194 0 0 1 436.33 527.5M452 525.98L452.52 529.79M456.86 529.14A197.84 197.84 0 0 1 448.18 530.34M456.86 529.14L457.96 536M448.18 530.34L448.6 533.98M451.55 533.61A201.5 201.5 0 0 1 445.64 534.29M451.55 533.61L451.81 535.64M445.64 534.29L446.24 540.21M436.33 527.5L436.74 534.96M439.71 534.77A201.48 201.48 0 0 1 433.77 535.11M439.71 534.77L440.01 538.97M433.77 535.11L434.03 541.42M400.46 511.04L399.76 515.99M422.87 517.78A184 184 0 0 1 377.05 511.31M422.87 517.78L422.69 530.78M427.78 530.79A197 197 0 0 1 417.6 530.64M427.78 530.79L427.9 541.62M417.6 530.64L417.38 536.06M421.86 536.19A202.42 202.42 0 0 1 412.91 535.83M421.86 536.19L421.8 539.82M412.91 535.83L412.83 537.15M415.83 537.32A203.75 203.75 0 0 1 409.83 536.94M415.83 537.32L415.73 539.3M409.83 536.94L409.57 540.28M377.05 511.31L376.26 514.2M399.8 519.02A187 187 0 0 1 353.53 506.4M399.8 519.02L398.28 529.92M404.45 530.68A198 198 0 0 1 392.15 528.97M404.45 530.68L403.56 538.97M392.15 528.97L391.73 531.4M398.31 532.42A200.47 200.47 0 0 1 385.19 530.17M398.31 532.42L397.7 536.87M385.19 530.17L384.76 532.24M389.17 533.09A202.58 202.58 0 0 1 380.38 531.29M389.17 533.09L388.85 534.85M391.82 535.37A204.37 204.37 0 0 1 385.88 534.29M391.82 535.37L391.53 537.06M385.88 534.29L384.91 539.2M380.38 531.29L379.84 533.66M353.53 506.4L352.38 509.17M371.65 516.01A190 190 0 0 1 333.95 500.29M371.65 516.01L368.82 525.6M375.22 527.38A200 200 0 0 1 362.48 523.61M375.22 527.38L373.89 532.48M362.48 523.61L361.33 527.07M365.63 528.44A203.64 203.64 0 0 1 357.07 525.6M365.63 528.44L365.12 530.08M368.03 530.95A205.35 205.35 0 0 1 362.23 529.17M368.03 530.95L367.01 534.46M362.23 529.17L361.67 530.91M357.07 525.6L355.28 530.61M333.95 500.29L332.5 502.92M345.47 509.43A193 193 0 0 1 320.06 495.45M345.47 509.43L342.15 516.71M348.27 519.37A201 201 0 0 1 336.13 513.84M348.27 519.37L346.87 522.75M351.07 524.45A204.66 204.66 0 0 1 342.7 520.97M351.07 524.45L349.55 528.33M342.7 520.97L342.1 522.34M344.89 523.55A206.16 206.16 0 0 1 339.32 521.08M344.89 523.55L344.05 525.52M339.32 521.08L336.68 526.83M336.13 513.84L333.05 520.04M320.06 495.45L318.42 497.97M326.89 503.19A196 196 0 0 1 310.24 492.33M326.89 503.19L323.37 509.24M327.28 511.45A203 203 0 0 1 319.51 506.93M327.28 511.45L325.98 513.8M328.64 515.25A205.68 205.68 0 0 1 323.33 512.32M328.64 515.25L326.86 518.6M323.33 512.32L321.95 514.73M319.51 506.93L315.18 514.01M310.24 492.33L307.3 496.37M313.07 500.41A201 201 0 0 1 301.67 492.13M313.07 500.41L310.33 504.46M312.87 506.14A205.88 205.88 0 0 1 307.83 502.74M312.87 506.14L310.94 509.09M307.83 502.74L305.4 506.23M301.67 492.13L299.14 495.36M303.36 498.57A205.11 205.11 0 0 1 295.01 492.04M303.36 498.57L298.81 504.7M295.01 492.04L293.45 493.94M297.03 496.82A207.56 207.56 0 0 1 289.94 490.97M297.03 496.82L295.25 499.07M289.94 490.97L288.62 492.5M290.98 494.5A209.58 209.58 0 0 1 286.29 490.46M290.98 494.5L289.36 496.44M286.29 490.46L283.07 494.09"/>
<path stroke="#f59a7b" d="M457.25 345.09L459.42 345.86M459.68 345.1A36 36 0 0 1 459.15 346.6M459.68 345.1L507.15 360.8M459.15 346.6L474.1 352.3M474.37 351.58A52 52 0 0 1 473.82 353.01M474.37 351.58L501.62 361.49M473.82 353.01L497.98 362.62"/>
<path stroke="#d55e00" d="M442.71 336.95L469.77 341.9M470.09 339.85A45 45 0 0 1 469.34 343.93M470.09 339.85L480 341.19M480.15 339.99A55 55 0 0 1 479.82 342.4M480.15 339.99L494.06 341.56M479.82 342.4L484.27 343.1M484.4 342.23A59.5 59.5 0 0 1 484.12 343.97M484.4 342.23L493.8 343.58M484.12 343.97L492.5 345.42M469.34 343.93L484.93 347.53M485.27 345.99A61 61 0 0 1 484.56 349.06M485.27 345.99L493.11 347.59M484.56 349.06L487.46 349.82M487.8 348.44A64 64 0 0 1 487.09 351.18M487.8 348.44L493.16 349.7M487.09 351.18L489.5 351.86M489.76 350.92A66.5 66.5 0 0 1 489.23 352.81M489.76 350.92L493.62 351.95M489.23 352.81L492.58 353.81"/>
<path stroke="#9b9b9b" d="M437.97 334.65L450.44 335.51M450.46 335.14A25 25 0 0 1 450.41 335.88M450.46 335.14L476.93 336.56M450.41 335.88L475.33 337.95"/>
<path stroke="#0a9e73" d="M430.75 330.89L443.86 323.61M442.48 321.44A21 21 0 0 1 444.97 325.94M442.48 321.44L455.82 311.74M454.9 310.52A37.5 37.5 0 0 1 456.69 312.99M454.9 310.52L472.77 296.38M472.22 295.68A60.29 60.29 0 0 1 473.32 297.08M472.22 295.68L480.31 289.08M473.32 297.08L481.56 290.75M456.69 312.99L471.06 303.4M470.38 302.4A54.78 54.78 0 0 1 471.73 304.41M470.38 302.4L476.62 298.03M476.09 297.28A62.39 62.39 0 0 1 477.14 298.79M476.09 297.28L478.48 295.55M477.14 298.79L479.72 297.04M471.73 304.41L484.58 296.24M444.97 325.94L452.39 322.94M450.9 319.81A29 29 0 0 1 453.49 326.23M450.9 319.81L460.54 314.5M459.87 313.35A40 40 0 0 1 461.16 315.67M459.87 313.35L480.86 300.86M461.16 315.67L472.75 309.78M472.21 308.74A53.01 53.01 0 0 1 473.28 310.83M472.21 308.74L477.49 305.9M477.08 305.14A59 59 0 0 1 477.9 306.67M477.08 305.14L481.46 302.7M477.9 306.67L480.42 305.36M473.28 310.83L482.85 306.22M453.49 326.23L459.29 324.66M458.22 321.36A35 35 0 0 1 460.02 328.05M458.22 321.36L466.63 318.16M466.09 316.81A44 44 0 0 1 467.12 319.54M466.09 316.81L475.39 312.91M474.92 311.81A54.09 54.09 0 0 1 475.84 314.02M474.92 311.81L483.64 307.93M475.84 314.02L482.45 311.42M482.11 310.58A61.19 61.19 0 0 1 482.78 312.27M482.11 310.58L484.24 309.71M482.78 312.27L488.17 310.24M467.12 319.54L490.38 311.57M460.02 328.05L464.96 327.23M464.37 324.38A40 40 0 0 1 465.33 330.12M464.37 324.38L472.15 322.49M471.84 321.29A48 48 0 0 1 472.43 323.7M471.84 321.29L480.98 318.82M480.63 317.6A57.46 57.46 0 0 1 481.29 320.05M480.63 317.6L486.79 315.79M486.51 314.89A63.88 63.88 0 0 1 487.05 316.7M486.51 314.89L490.8 313.56M487.05 316.7L493.27 314.97M481.29 320.05L495.38 316.58M472.43 323.7L495.59 318.71M465.33 330.12L471.31 329.57M471.01 327.13A46 46 0 0 1 471.47 332.03M471.01 327.13L476.95 326.26M476.77 325.12A52 52 0 0 1 477.1 327.4M476.77 325.12L485.96 323.56M485.8 322.67A61.32 61.32 0 0 1 486.1 324.46M485.8 322.67L493.61 321.23M486.1 324.46L490.4 323.79M477.1 327.4L489.62 325.84M471.47 332.03L476.46 331.83M476.34 329.77A51 51 0 0 1 476.5 333.9M476.34 329.77L482.32 329.29M482.25 328.45A57 57 0 0 1 482.38 330.13M482.25 328.45L488.44 327.87M482.38 330.13L488.53 329.73M476.5 333.9L482.5 333.91M482.49 332.65A57 57 0 0 1 482.48 335.18M482.49 332.65L486.74 332.57M486.72 331.66A61.26 61.26 0 0 1 486.76 333.47M486.72 331.66L491.25 331.5M486.76 333.47L490.41 333.45M482.48 335.18L490.76 335.38"/>
<path stroke="#56b4e9" d="M428.22 330.86L429.57 329.4M427.99 328.34A6 6 0 0 1 430.75 330.89M427.99 328.34L428.41 327.43M425.51 326.8A7 7 0 0 1 430.79 329.22M425.51 326.8L425.53 292.71M425.82 326.81L426.74 306.35M426.33 306.33A27.48 27.48 0 0 1 427.14 306.37M426.33 306.33L426.93 286.8M427.14 306.37L428.29 287.31M426.12 326.83L429.31 291.25M426.43 326.86L428.89 308.57M428.52 308.52A25.46 25.46 0 0 1 429.26 308.62M428.52 308.52L430.82 289.25M429.26 308.62L432.11 289.58M426.74 326.91L433.74 287.98M426.94 326.95L435.36 286.96M427.24 327.02L431.01 312.36M430.7 312.28A22.13 22.13 0 0 1 431.33 312.45M430.7 312.28L435.48 292.46M431.33 312.45L436.62 293.06M427.54 327.1L439.64 287.44M427.74 327.17L439.9 291.14M427.93 327.24L441.99 289.32M428.22 327.35L434.63 312.16M434.31 312.03A23.49 23.49 0 0 1 434.95 312.3M434.31 312.03L440.93 295.67M434.95 312.3L443.39 293.09M428.64 327.55L435.82 313.26M435.37 313.04A22.99 22.99 0 0 1 436.28 313.49M435.37 313.04L445.44 291.84M436.28 313.49L438.59 309.13M438.22 308.94A27.92 27.92 0 0 1 438.95 309.33M438.22 308.94L439.17 307.1M438.95 309.33L448.53 291.91M429.14 327.82L436.2 316.23M435.94 316.07A20.57 20.57 0 0 1 436.46 316.39M435.94 316.07L449.47 293.1M436.46 316.39L438.28 313.49M429.4 327.99L447.67 300.77M429.7 328.2L443.55 309.7M443.01 309.31A30.11 30.11 0 0 1 444.08 310.11M443.01 309.31L450.91 298.26M444.08 310.11L442.29 312.39M441.97 312.15A27.21 27.21 0 0 1 442.6 312.64M441.97 312.15L442.45 311.51M442.6 312.64L451.88 301.16M430.06 328.49L438.53 318.62M430.21 328.63L453.69 302.86M430.36 328.77L443.57 315.1M430.51 328.91L454 306M430.65 329.06L441.7 318.91M430.79 329.22L456.92 306.58"/>
<path stroke="#111111" d="M428.22 330.86A4 4 0 0 1 429.07 335.61M429.07 335.61L436.64 339.46M437.97 334.65A12.5 12.5 0 0 1 433.54 343.37M433.54 343.37L436.76 347.2M442.71 336.95A17.5 17.5 0 0 1 425.63 351.3M425.63 351.3L425.66 355.8M445.29 343.4A22 22 0 0 1 405.85 343.7M445.29 343.4L455.82 348.51M457.25 345.09A33.7 33.7 0 0 1 454.02 351.76M405.85 343.7L401.39 345.94M405.79 352.25A27 27 0 0 1 398.94 338.65M398.94 338.65L392.54 339.81M394.36 346.15A33.5 33.5 0 0 1 392 333.25"/>
</g>
<text x="238.8" y="266.2" font-size="9.05" font-weight="bold" fill="#f1df3e">Pseudomonadota</text>
<text x="441" y="267" font-size="9.05" font-weight="bold" fill="#5aaee6">Bacillota_A</text>
<text x="493" y="304" font-size="9.05" font-weight="bold" fill="#1c9f6c">Bacillota</text>
<text x="499.5" y="341.5" font-size="9.05" font-weight="bold" fill="#9a9a9a">Bacillota_C</text>
<text x="499.5" y="353" font-size="9.05" font-weight="bold" fill="#d9600f">Fusobacteriota</text>
<text x="510" y="368.2" font-size="9.05" font-weight="bold" fill="#f49a7c">Spirochaetota</text>
<text x="451.5" y="421.5" font-size="9.05" font-weight="bold" fill="#cf6da9">Bacteroidota</text>
<text x="266.3" y="376" font-size="9.05" font-weight="bold" fill="#1b77b5">Actinomycetota</text>
<text x="289" y="422" font-size="9.05" font-weight="bold" fill="#e6a117">Patescibacteria</text>
<g font-size="7.3" fill="#111" text-anchor="end">
<text x="415.5" y="7.9">TP WGS</text>
<text x="415.5" y="18.9">DP WGS</text>
<text x="417.5" y="38.1">TP MAG No.</text>
<text x="417.5" y="62.6">DP MAG No.</text>
<text x="418" y="79.6">Genome Size</text>
<text x="418" y="90.2">Completeness</text>
<text x="418" y="107.9">MAG Novelty</text>
</g>
<rect x="2.6" y="11.5" width="72.5" height="195" fill="#fff" stroke="#efefef" stroke-width="0.8"/>
<text x="8" y="23.2" font-size="10.3" fill="#111">Relative</text>
<text x="8" y="36.2" font-size="10.3" fill="#111">Abundance %</text>
<line x1="5.5" y1="41.6" x2="73" y2="41.6" stroke="#666" stroke-width="0.8"/>
<rect x="6.6" y="43.4" width="24" height="14.51" fill="#f2f4f2"/>
<rect x="6.6" y="57.61" width="24" height="14.51" fill="#f5ede2"/>
<rect x="6.6" y="71.82" width="24" height="14.51" fill="#f4e3cf"/>
<rect x="6.6" y="86.03" width="24" height="14.51" fill="#f2d9bc"/>
<rect x="6.6" y="100.24" width="24" height="14.51" fill="#f1cfa9"/>
<rect x="6.6" y="114.45" width="24" height="14.51" fill="#efc596"/>
<rect x="6.6" y="128.65" width="24" height="14.51" fill="#eebc84"/>
<rect x="6.6" y="142.86" width="24" height="14.51" fill="#ecb271"/>
<rect x="6.6" y="157.07" width="24" height="14.51" fill="#eba85e"/>
<rect x="6.6" y="171.28" width="24" height="14.51" fill="#e99e4b"/>
<rect x="6.6" y="185.49" width="24" height="14.51" fill="#e89438"/>
<text x="35" y="53.6" font-size="8.0" fill="#111">0</text>
<text x="35" y="82.6" font-size="8.0" fill="#111">2</text>
<text x="35" y="111.2" font-size="8.0" fill="#111">4</text>
<text x="35" y="140.2" font-size="8.0" fill="#111">6</text>
<text x="35" y="168.3" font-size="8.0" fill="#111">8</text>
<text x="35" y="195.2" font-size="8.0" fill="#111">10</text>
<rect x="0.5" y="227.8" width="86" height="119.8" fill="#fff" stroke="#efefef" stroke-width="0.8"/>
<text x="4.7" y="242.6" font-size="10.3" fill="#111">Genome Size Mb</text>
<line x1="2.8" y1="249.5" x2="80" y2="249.5" stroke="#666" stroke-width="0.8"/>
<rect x="4.1" y="251.2" width="24" height="8.46" fill="#f0f3f1"/>
<rect x="4.1" y="259.36" width="24" height="8.46" fill="#e1f6e1"/>
<rect x="4.1" y="267.53" width="24" height="8.46" fill="#cbf6cb"/>
<rect x="4.1" y="275.69" width="24" height="8.46" fill="#b3f4b3"/>
<rect x="4.1" y="283.85" width="24" height="8.46" fill="#9cf29c"/>
<rect x="4.1" y="292.02" width="24" height="8.46" fill="#84f184"/>
<rect x="4.1" y="300.18" width="24" height="8.46" fill="#6bf06c"/>
<rect x="4.1" y="308.35" width="24" height="8.46" fill="#50ef53"/>
<rect x="4.1" y="316.51" width="24" height="8.46" fill="#35ee3b"/>
<rect x="4.1" y="324.67" width="24" height="8.46" fill="#1bed22"/>
<rect x="4.1" y="332.84" width="24" height="8.46" fill="#00ec0a"/>
<text x="31.8" y="264.2" font-size="10.3" fill="#111">1.0</text>
<text x="31.8" y="289.4" font-size="10.3" fill="#111">3.0</text>
<text x="31.8" y="316.6" font-size="10.3" fill="#111">6.0</text>
<text x="31.8" y="340.6" font-size="10.3" fill="#111">9.0</text>
<rect x="0.5" y="422.6" width="88.5" height="133.4" fill="#fff" stroke="#efefef" stroke-width="0.8"/>
<text x="5.3" y="434.8" font-size="10.3" fill="#111">Completeness %</text>
<line x1="3" y1="441.5" x2="86.5" y2="441.5" stroke="#666" stroke-width="0.8"/>
<rect x="4.5" y="443.5" width="24" height="9.78" fill="#eef2f3"/>
<rect x="4.5" y="452.98" width="24" height="9.78" fill="#e2ecf3"/>
<rect x="4.5" y="462.46" width="24" height="9.78" fill="#d5e5f1"/>
<rect x="4.5" y="471.95" width="24" height="9.78" fill="#c8dff0"/>
<rect x="4.5" y="481.43" width="24" height="9.78" fill="#bbd8ee"/>
<rect x="4.5" y="490.91" width="24" height="9.78" fill="#aed1ec"/>
<rect x="4.5" y="500.39" width="24" height="9.78" fill="#a1cbeb"/>
<rect x="4.5" y="509.87" width="24" height="9.78" fill="#94c4e9"/>
<rect x="4.5" y="519.35" width="24" height="9.78" fill="#87bde7"/>
<rect x="4.5" y="528.84" width="24" height="9.78" fill="#7ab7e6"/>
<rect x="4.5" y="538.32" width="24" height="9.78" fill="#6db0e4"/>
<text x="33" y="458.6" font-size="8.2" fill="#111">50</text>
<text x="33" y="499.6" font-size="8.2" fill="#111">75</text>
<text x="33" y="545.0" font-size="8.2" fill="#111">100</text>
<rect x="0.5" y="580.8" width="106.5" height="72.2" fill="#fff" stroke="#efefef" stroke-width="0.8"/>
<text x="4.5" y="594.2" font-size="10.3" fill="#111">MAG Novelty</text>
<line x1="3" y1="600.7" x2="104.5" y2="600.7" stroke="#777" stroke-width="0.7"/>
<rect x="4.5" y="607.3" width="15.5" height="15.2" fill="#fbd5c0" stroke="#9a9a9a" stroke-width="0.7"/>
<rect x="4.5" y="630.2" width="15.5" height="15.2" fill="#9e99cd" stroke="#9a9a9a" stroke-width="0.7"/>
<text x="28.5" y="618.2" font-size="10.3" fill="#111">Novel Genus</text>
<text x="28.5" y="641.8" font-size="10.3" fill="#111">Novel Species</text>
</svg>
</body></html>
